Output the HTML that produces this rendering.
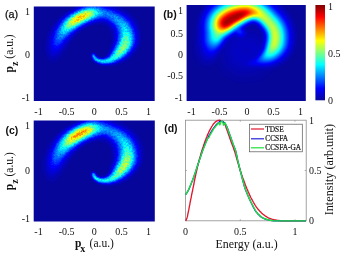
<!DOCTYPE html>
<html><head><meta charset="utf-8"><title>figure</title>
<style>html,body{margin:0;padding:0;background:#fff}svg{display:block}.h circle{mix-blend-mode:lighten}text{fill:#111}</style>
</head><body>
<svg width="342" height="254" viewBox="0 0 342 254">
<rect width="342" height="254" fill="#fff"/>
<defs>
<filter id="fa" filterUnits="userSpaceOnUse" x="13.799999999999997" y="-13.5" width="160.89999999999998" height="134.5" color-interpolation-filters="sRGB">
<feGaussianBlur stdDeviation="1.0" result="b"/>
<feTurbulence type="fractalNoise" baseFrequency="0.55" numOctaves="2" seed="7" result="n"/>
<feColorMatrix in="n" type="matrix" values="1 0 0 0 0  1 0 0 0 0  1 0 0 0 0  0 0 0 0 1" result="ng"/>
<feComposite in="b" in2="ng" operator="arithmetic" k1="0.5" k2="0.75" k3="0" k4="0"/>
<feComponentTransfer>
<feFuncR type="table" tableValues="0.024 0 0 0 0.5 1 1 1 0.5"/>
<feFuncG type="table" tableValues="0.024 0 0.5 1 1 1 0.5 0 0"/>
<feFuncB type="table" tableValues="0.61 1 1 1 0.5 0 0 0 0"/>
</feComponentTransfer>
</filter>
<clipPath id="clipfa"><rect x="33.8" y="6.5" width="120.89999999999999" height="94.5"/></clipPath>
<filter id="fb" filterUnits="userSpaceOnUse" x="166.6" y="-15" width="159.20000000000002" height="136.1" color-interpolation-filters="sRGB">
<feGaussianBlur stdDeviation="1.5" result="b"/>

<feComponentTransfer>
<feFuncR type="table" tableValues="0.024 0 0 0 0.5 1 1 1 0.5"/>
<feFuncG type="table" tableValues="0.024 0 0.5 1 1 1 0.5 0 0"/>
<feFuncB type="table" tableValues="0.61 1 1 1 0.5 0 0 0 0"/>
</feComponentTransfer>
</filter>
<clipPath id="clipfb"><rect x="186.6" y="5" width="119.20000000000002" height="96.1"/></clipPath>
<filter id="fc" filterUnits="userSpaceOnUse" x="13.700000000000003" y="100.4" width="161.10000000000002" height="141.1" color-interpolation-filters="sRGB">
<feGaussianBlur stdDeviation="1.0" result="b"/>
<feTurbulence type="fractalNoise" baseFrequency="0.55" numOctaves="2" seed="11" result="n"/>
<feColorMatrix in="n" type="matrix" values="1 0 0 0 0  1 0 0 0 0  1 0 0 0 0  0 0 0 0 1" result="ng"/>
<feComposite in="b" in2="ng" operator="arithmetic" k1="0.5" k2="0.75" k3="0" k4="0"/>
<feComponentTransfer>
<feFuncR type="table" tableValues="0.024 0 0 0 0.5 1 1 1 0.5"/>
<feFuncG type="table" tableValues="0.024 0 0.5 1 1 1 0.5 0 0"/>
<feFuncB type="table" tableValues="0.61 1 1 1 0.5 0 0 0 0"/>
</feComponentTransfer>
</filter>
<clipPath id="clipfc"><rect x="33.7" y="120.4" width="121.10000000000001" height="101.1"/></clipPath>
<linearGradient id="cb" x1="0" y1="1" x2="0" y2="0">
<stop offset="0" stop-color="rgb(6,6,156)"/>
<stop offset="0.125" stop-color="rgb(0,0,255)"/>
<stop offset="0.375" stop-color="rgb(0,255,255)"/>
<stop offset="0.625" stop-color="rgb(255,255,0)"/>
<stop offset="0.875" stop-color="rgb(255,0,0)"/>
<stop offset="1" stop-color="rgb(128,0,0)"/>
</linearGradient>
</defs>

<g clip-path="url(#clipfa)"><g filter="url(#fa)" class="h">
<rect x="13.799999999999997" y="-13.5" width="160.89999999999998" height="134.5" fill="#000"/>
<circle cx="93.4" cy="55.4" r="2.00" fill="rgb(11,11,11)"/>
<circle cx="94.3" cy="57.6" r="2.46" fill="rgb(10,10,10)"/>
<circle cx="95.9" cy="59.2" r="2.89" fill="rgb(9,9,9)"/>
<circle cx="97.8" cy="60.3" r="3.28" fill="rgb(8,8,8)"/>
<circle cx="100.0" cy="61.0" r="3.66" fill="rgb(8,8,8)"/>
<circle cx="102.3" cy="61.4" r="4.07" fill="rgb(7,7,7)"/>
<circle cx="104.6" cy="61.4" r="4.49" fill="rgb(7,7,7)"/>
<circle cx="106.9" cy="61.0" r="5.02" fill="rgb(7,7,7)"/>
<circle cx="109.0" cy="60.4" r="5.69" fill="rgb(7,7,7)"/>
<circle cx="111.1" cy="59.5" r="6.44" fill="rgb(7,7,7)"/>
<circle cx="113.1" cy="58.3" r="7.25" fill="rgb(7,7,7)"/>
<circle cx="114.9" cy="56.9" r="8.12" fill="rgb(7,7,7)"/>
<circle cx="116.6" cy="55.4" r="9.00" fill="rgb(8,8,8)"/>
<circle cx="118.2" cy="53.8" r="9.90" fill="rgb(8,8,8)"/>
<circle cx="119.7" cy="52.1" r="10.80" fill="rgb(8,8,8)"/>
<circle cx="121.2" cy="50.3" r="11.57" fill="rgb(9,9,9)"/>
<circle cx="122.5" cy="48.5" r="12.20" fill="rgb(9,9,9)"/>
<circle cx="123.8" cy="46.6" r="12.76" fill="rgb(9,9,9)"/>
<circle cx="124.9" cy="44.6" r="13.36" fill="rgb(8,8,8)"/>
<circle cx="125.7" cy="42.5" r="14.00" fill="rgb(8,8,8)"/>
<circle cx="126.3" cy="40.3" r="14.47" fill="rgb(8,8,8)"/>
<circle cx="126.5" cy="38.0" r="14.71" fill="rgb(7,7,7)"/>
<circle cx="126.4" cy="35.7" r="14.90" fill="rgb(7,7,7)"/>
<circle cx="126.1" cy="33.4" r="15.00" fill="rgb(6,6,6)"/>
<circle cx="125.6" cy="31.2" r="14.94" fill="rgb(6,6,6)"/>
<circle cx="124.9" cy="29.0" r="14.74" fill="rgb(6,6,6)"/>
<circle cx="124.0" cy="26.9" r="14.49" fill="rgb(5,5,5)"/>
<circle cx="122.7" cy="25.0" r="14.18" fill="rgb(5,5,5)"/>
<circle cx="121.3" cy="23.3" r="13.80" fill="rgb(5,5,5)"/>
<circle cx="119.7" cy="21.7" r="13.42" fill="rgb(5,5,5)"/>
<circle cx="117.9" cy="20.2" r="13.04" fill="rgb(5,5,5)"/>
<circle cx="116.1" cy="18.8" r="12.68" fill="rgb(4,4,4)"/>
<circle cx="114.2" cy="17.5" r="12.39" fill="rgb(4,4,4)"/>
<circle cx="112.3" cy="16.4" r="12.14" fill="rgb(4,4,4)"/>
<circle cx="110.2" cy="15.4" r="12.00" fill="rgb(4,4,4)"/>
<circle cx="108.1" cy="14.5" r="12.00" fill="rgb(4,4,4)"/>
<circle cx="106.0" cy="13.8" r="12.00" fill="rgb(4,4,4)"/>
<circle cx="103.8" cy="13.2" r="12.00" fill="rgb(4,4,4)"/>
<circle cx="101.5" cy="12.8" r="12.00" fill="rgb(5,5,5)"/>
<circle cx="99.2" cy="12.7" r="12.00" fill="rgb(5,5,5)"/>
<circle cx="97.0" cy="12.6" r="12.00" fill="rgb(6,6,6)"/>
<circle cx="94.7" cy="12.8" r="12.00" fill="rgb(7,7,7)"/>
<circle cx="92.4" cy="13.1" r="11.90" fill="rgb(8,8,8)"/>
<circle cx="90.2" cy="13.6" r="11.68" fill="rgb(9,9,9)"/>
<circle cx="88.0" cy="14.3" r="11.51" fill="rgb(10,10,10)"/>
<circle cx="85.9" cy="15.1" r="11.50" fill="rgb(11,11,11)"/>
<circle cx="83.8" cy="15.9" r="11.50" fill="rgb(11,11,11)"/>
<circle cx="81.7" cy="16.9" r="11.50" fill="rgb(11,11,11)"/>
<circle cx="79.7" cy="17.9" r="11.50" fill="rgb(11,11,11)"/>
<circle cx="77.7" cy="19.0" r="11.55" fill="rgb(11,11,11)"/>
<circle cx="75.7" cy="20.2" r="11.68" fill="rgb(11,11,11)"/>
<circle cx="73.8" cy="21.4" r="11.85" fill="rgb(10,10,10)"/>
<circle cx="72.0" cy="22.7" r="12.00" fill="rgb(10,10,10)"/>
<circle cx="70.2" cy="24.1" r="12.14" fill="rgb(9,9,9)"/>
<circle cx="68.5" cy="25.6" r="12.29" fill="rgb(8,8,8)"/>
<circle cx="66.8" cy="27.2" r="12.44" fill="rgb(7,7,7)"/>
<circle cx="65.3" cy="28.9" r="12.64" fill="rgb(6,6,6)"/>
<circle cx="63.9" cy="30.7" r="12.88" fill="rgb(6,6,6)"/>
<circle cx="62.5" cy="32.5" r="13.00" fill="rgb(5,5,5)"/>
<circle cx="61.2" cy="34.4" r="13.00" fill="rgb(5,5,5)"/>
<circle cx="60.1" cy="36.3" r="13.00" fill="rgb(4,4,4)"/>
<circle cx="59.0" cy="38.4" r="13.00" fill="rgb(4,4,4)"/>
<circle cx="58.0" cy="40.4" r="12.95" fill="rgb(3,3,3)"/>
<circle cx="57.1" cy="42.5" r="12.76" fill="rgb(3,3,3)"/>
<circle cx="56.3" cy="44.6" r="12.54" fill="rgb(3,3,3)"/>
<circle cx="55.4" cy="46.7" r="12.35" fill="rgb(2,2,2)"/>
<circle cx="54.7" cy="48.9" r="12.16" fill="rgb(2,2,2)"/>
<circle cx="93.4" cy="55.4" r="1.68" fill="rgb(26,26,26)"/>
<circle cx="94.3" cy="57.6" r="2.06" fill="rgb(23,23,23)"/>
<circle cx="95.9" cy="59.2" r="2.42" fill="rgb(21,21,21)"/>
<circle cx="97.8" cy="60.3" r="2.75" fill="rgb(19,19,19)"/>
<circle cx="100.0" cy="61.0" r="3.08" fill="rgb(18,18,18)"/>
<circle cx="102.3" cy="61.4" r="3.42" fill="rgb(17,17,17)"/>
<circle cx="104.6" cy="61.4" r="3.78" fill="rgb(17,17,17)"/>
<circle cx="106.9" cy="61.0" r="4.21" fill="rgb(16,16,16)"/>
<circle cx="109.0" cy="60.4" r="4.78" fill="rgb(16,16,16)"/>
<circle cx="111.1" cy="59.5" r="5.41" fill="rgb(16,16,16)"/>
<circle cx="113.1" cy="58.3" r="6.09" fill="rgb(17,17,17)"/>
<circle cx="114.9" cy="56.9" r="6.82" fill="rgb(17,17,17)"/>
<circle cx="116.6" cy="55.4" r="7.56" fill="rgb(18,18,18)"/>
<circle cx="118.2" cy="53.8" r="8.32" fill="rgb(19,19,19)"/>
<circle cx="119.7" cy="52.1" r="9.07" fill="rgb(20,20,20)"/>
<circle cx="121.2" cy="50.3" r="9.72" fill="rgb(20,20,20)"/>
<circle cx="122.5" cy="48.5" r="10.25" fill="rgb(20,20,20)"/>
<circle cx="123.8" cy="46.6" r="10.72" fill="rgb(20,20,20)"/>
<circle cx="124.9" cy="44.6" r="11.22" fill="rgb(20,20,20)"/>
<circle cx="125.7" cy="42.5" r="11.76" fill="rgb(19,19,19)"/>
<circle cx="126.3" cy="40.3" r="12.15" fill="rgb(18,18,18)"/>
<circle cx="126.5" cy="38.0" r="12.36" fill="rgb(17,17,17)"/>
<circle cx="126.4" cy="35.7" r="12.52" fill="rgb(16,16,16)"/>
<circle cx="126.1" cy="33.4" r="12.60" fill="rgb(15,15,15)"/>
<circle cx="125.6" cy="31.2" r="12.55" fill="rgb(14,14,14)"/>
<circle cx="124.9" cy="29.0" r="12.38" fill="rgb(13,13,13)"/>
<circle cx="124.0" cy="26.9" r="12.17" fill="rgb(13,13,13)"/>
<circle cx="122.7" cy="25.0" r="11.91" fill="rgb(12,12,12)"/>
<circle cx="121.3" cy="23.3" r="11.59" fill="rgb(12,12,12)"/>
<circle cx="119.7" cy="21.7" r="11.28" fill="rgb(11,11,11)"/>
<circle cx="117.9" cy="20.2" r="10.95" fill="rgb(11,11,11)"/>
<circle cx="116.1" cy="18.8" r="10.65" fill="rgb(10,10,10)"/>
<circle cx="114.2" cy="17.5" r="10.41" fill="rgb(10,10,10)"/>
<circle cx="112.3" cy="16.4" r="10.19" fill="rgb(10,10,10)"/>
<circle cx="110.2" cy="15.4" r="10.08" fill="rgb(10,10,10)"/>
<circle cx="108.1" cy="14.5" r="10.08" fill="rgb(10,10,10)"/>
<circle cx="106.0" cy="13.8" r="10.08" fill="rgb(10,10,10)"/>
<circle cx="103.8" cy="13.2" r="10.08" fill="rgb(10,10,10)"/>
<circle cx="101.5" cy="12.8" r="10.08" fill="rgb(11,11,11)"/>
<circle cx="99.2" cy="12.7" r="10.08" fill="rgb(12,12,12)"/>
<circle cx="97.0" cy="12.6" r="10.08" fill="rgb(14,14,14)"/>
<circle cx="94.7" cy="12.8" r="10.08" fill="rgb(16,16,16)"/>
<circle cx="92.4" cy="13.1" r="10.00" fill="rgb(18,18,18)"/>
<circle cx="90.2" cy="13.6" r="9.81" fill="rgb(21,21,21)"/>
<circle cx="88.0" cy="14.3" r="9.67" fill="rgb(24,24,24)"/>
<circle cx="85.9" cy="15.1" r="9.66" fill="rgb(25,25,25)"/>
<circle cx="83.8" cy="15.9" r="9.66" fill="rgb(26,26,26)"/>
<circle cx="81.7" cy="16.9" r="9.66" fill="rgb(26,26,26)"/>
<circle cx="79.7" cy="17.9" r="9.66" fill="rgb(27,27,27)"/>
<circle cx="77.7" cy="19.0" r="9.70" fill="rgb(26,26,26)"/>
<circle cx="75.7" cy="20.2" r="9.81" fill="rgb(26,26,26)"/>
<circle cx="73.8" cy="21.4" r="9.95" fill="rgb(24,24,24)"/>
<circle cx="72.0" cy="22.7" r="10.08" fill="rgb(23,23,23)"/>
<circle cx="70.2" cy="24.1" r="10.20" fill="rgb(21,21,21)"/>
<circle cx="68.5" cy="25.6" r="10.32" fill="rgb(19,19,19)"/>
<circle cx="66.8" cy="27.2" r="10.45" fill="rgb(17,17,17)"/>
<circle cx="65.3" cy="28.9" r="10.62" fill="rgb(15,15,15)"/>
<circle cx="63.9" cy="30.7" r="10.82" fill="rgb(13,13,13)"/>
<circle cx="62.5" cy="32.5" r="10.92" fill="rgb(12,12,12)"/>
<circle cx="61.2" cy="34.4" r="10.92" fill="rgb(11,11,11)"/>
<circle cx="60.1" cy="36.3" r="10.92" fill="rgb(10,10,10)"/>
<circle cx="59.0" cy="38.4" r="10.92" fill="rgb(9,9,9)"/>
<circle cx="58.0" cy="40.4" r="10.88" fill="rgb(8,8,8)"/>
<circle cx="57.1" cy="42.5" r="10.72" fill="rgb(7,7,7)"/>
<circle cx="56.3" cy="44.6" r="10.53" fill="rgb(6,6,6)"/>
<circle cx="55.4" cy="46.7" r="10.38" fill="rgb(5,5,5)"/>
<circle cx="54.7" cy="48.9" r="10.21" fill="rgb(4,4,4)"/>
<circle cx="54.1" cy="51.1" r="9.99" fill="rgb(3,3,3)"/>
<circle cx="53.7" cy="53.3" r="9.66" fill="rgb(2,2,2)"/>
<circle cx="93.4" cy="55.4" r="1.43" fill="rgb(44,44,44)"/>
<circle cx="94.3" cy="57.6" r="1.76" fill="rgb(39,39,39)"/>
<circle cx="95.9" cy="59.2" r="2.06" fill="rgb(36,36,36)"/>
<circle cx="97.8" cy="60.3" r="2.34" fill="rgb(33,33,33)"/>
<circle cx="100.0" cy="61.0" r="2.62" fill="rgb(31,31,31)"/>
<circle cx="102.3" cy="61.4" r="2.91" fill="rgb(30,30,30)"/>
<circle cx="104.6" cy="61.4" r="3.21" fill="rgb(28,28,28)"/>
<circle cx="106.9" cy="61.0" r="3.59" fill="rgb(28,28,28)"/>
<circle cx="109.0" cy="60.4" r="4.07" fill="rgb(28,28,28)"/>
<circle cx="111.1" cy="59.5" r="4.60" fill="rgb(28,28,28)"/>
<circle cx="113.1" cy="58.3" r="5.18" fill="rgb(29,29,29)"/>
<circle cx="114.9" cy="56.9" r="5.81" fill="rgb(29,29,29)"/>
<circle cx="116.6" cy="55.4" r="6.44" fill="rgb(31,31,31)"/>
<circle cx="118.2" cy="53.8" r="7.08" fill="rgb(32,32,32)"/>
<circle cx="119.7" cy="52.1" r="7.72" fill="rgb(33,33,33)"/>
<circle cx="121.2" cy="50.3" r="8.28" fill="rgb(34,34,34)"/>
<circle cx="122.5" cy="48.5" r="8.72" fill="rgb(34,34,34)"/>
<circle cx="123.8" cy="46.6" r="9.13" fill="rgb(34,34,34)"/>
<circle cx="124.9" cy="44.6" r="9.55" fill="rgb(34,34,34)"/>
<circle cx="125.7" cy="42.5" r="10.01" fill="rgb(32,32,32)"/>
<circle cx="126.3" cy="40.3" r="10.34" fill="rgb(31,31,31)"/>
<circle cx="126.5" cy="38.0" r="10.52" fill="rgb(29,29,29)"/>
<circle cx="126.4" cy="35.7" r="10.66" fill="rgb(27,27,27)"/>
<circle cx="126.1" cy="33.4" r="10.72" fill="rgb(26,26,26)"/>
<circle cx="125.6" cy="31.2" r="10.68" fill="rgb(24,24,24)"/>
<circle cx="124.9" cy="29.0" r="10.54" fill="rgb(23,23,23)"/>
<circle cx="124.0" cy="26.9" r="10.36" fill="rgb(22,22,22)"/>
<circle cx="122.7" cy="25.0" r="10.14" fill="rgb(21,21,21)"/>
<circle cx="121.3" cy="23.3" r="9.87" fill="rgb(20,20,20)"/>
<circle cx="119.7" cy="21.7" r="9.60" fill="rgb(19,19,19)"/>
<circle cx="117.9" cy="20.2" r="9.32" fill="rgb(19,19,19)"/>
<circle cx="116.1" cy="18.8" r="9.06" fill="rgb(18,18,18)"/>
<circle cx="114.2" cy="17.5" r="8.86" fill="rgb(17,17,17)"/>
<circle cx="112.3" cy="16.4" r="8.68" fill="rgb(17,17,17)"/>
<circle cx="110.2" cy="15.4" r="8.58" fill="rgb(16,16,16)"/>
<circle cx="108.1" cy="14.5" r="8.58" fill="rgb(16,16,16)"/>
<circle cx="106.0" cy="13.8" r="8.58" fill="rgb(16,16,16)"/>
<circle cx="103.8" cy="13.2" r="8.58" fill="rgb(17,17,17)"/>
<circle cx="101.5" cy="12.8" r="8.58" fill="rgb(19,19,19)"/>
<circle cx="99.2" cy="12.7" r="8.58" fill="rgb(21,21,21)"/>
<circle cx="97.0" cy="12.6" r="8.58" fill="rgb(24,24,24)"/>
<circle cx="94.7" cy="12.8" r="8.58" fill="rgb(27,27,27)"/>
<circle cx="92.4" cy="13.1" r="8.51" fill="rgb(31,31,31)"/>
<circle cx="90.2" cy="13.6" r="8.35" fill="rgb(37,37,37)"/>
<circle cx="88.0" cy="14.3" r="8.23" fill="rgb(41,41,41)"/>
<circle cx="85.9" cy="15.1" r="8.22" fill="rgb(43,43,43)"/>
<circle cx="83.8" cy="15.9" r="8.22" fill="rgb(44,44,44)"/>
<circle cx="81.7" cy="16.9" r="8.22" fill="rgb(45,45,45)"/>
<circle cx="79.7" cy="17.9" r="8.22" fill="rgb(46,46,46)"/>
<circle cx="77.7" cy="19.0" r="8.26" fill="rgb(45,45,45)"/>
<circle cx="75.7" cy="20.2" r="8.35" fill="rgb(44,44,44)"/>
<circle cx="73.8" cy="21.4" r="8.47" fill="rgb(42,42,42)"/>
<circle cx="72.0" cy="22.7" r="8.58" fill="rgb(39,39,39)"/>
<circle cx="70.2" cy="24.1" r="8.68" fill="rgb(36,36,36)"/>
<circle cx="68.5" cy="25.6" r="8.79" fill="rgb(32,32,32)"/>
<circle cx="66.8" cy="27.2" r="8.90" fill="rgb(29,29,29)"/>
<circle cx="65.3" cy="28.9" r="9.04" fill="rgb(26,26,26)"/>
<circle cx="63.9" cy="30.7" r="9.21" fill="rgb(23,23,23)"/>
<circle cx="62.5" cy="32.5" r="9.29" fill="rgb(21,21,21)"/>
<circle cx="61.2" cy="34.4" r="9.29" fill="rgb(19,19,19)"/>
<circle cx="60.1" cy="36.3" r="9.29" fill="rgb(17,17,17)"/>
<circle cx="59.0" cy="38.4" r="9.29" fill="rgb(15,15,15)"/>
<circle cx="58.0" cy="40.4" r="9.26" fill="rgb(13,13,13)"/>
<circle cx="57.1" cy="42.5" r="9.12" fill="rgb(12,12,12)"/>
<circle cx="56.3" cy="44.6" r="8.96" fill="rgb(10,10,10)"/>
<circle cx="55.4" cy="46.7" r="8.83" fill="rgb(9,9,9)"/>
<circle cx="54.7" cy="48.9" r="8.69" fill="rgb(7,7,7)"/>
<circle cx="54.1" cy="51.1" r="8.50" fill="rgb(5,5,5)"/>
<circle cx="53.7" cy="53.3" r="8.22" fill="rgb(4,4,4)"/>
<circle cx="53.5" cy="55.6" r="7.86" fill="rgb(2,2,2)"/>
<circle cx="93.4" cy="55.4" r="1.21" fill="rgb(66,66,66)"/>
<circle cx="94.3" cy="57.6" r="1.49" fill="rgb(59,59,59)"/>
<circle cx="95.9" cy="59.2" r="1.75" fill="rgb(54,54,54)"/>
<circle cx="97.8" cy="60.3" r="1.98" fill="rgb(50,50,50)"/>
<circle cx="100.0" cy="61.0" r="2.22" fill="rgb(47,47,47)"/>
<circle cx="102.3" cy="61.4" r="2.46" fill="rgb(44,44,44)"/>
<circle cx="104.6" cy="61.4" r="2.72" fill="rgb(43,43,43)"/>
<circle cx="106.9" cy="61.0" r="3.04" fill="rgb(42,42,42)"/>
<circle cx="109.0" cy="60.4" r="3.44" fill="rgb(42,42,42)"/>
<circle cx="111.1" cy="59.5" r="3.90" fill="rgb(42,42,42)"/>
<circle cx="113.1" cy="58.3" r="4.38" fill="rgb(43,43,43)"/>
<circle cx="114.9" cy="56.9" r="4.91" fill="rgb(44,44,44)"/>
<circle cx="116.6" cy="55.4" r="5.45" fill="rgb(46,46,46)"/>
<circle cx="118.2" cy="53.8" r="5.99" fill="rgb(48,48,48)"/>
<circle cx="119.7" cy="52.1" r="6.53" fill="rgb(50,50,50)"/>
<circle cx="121.2" cy="50.3" r="7.00" fill="rgb(51,51,51)"/>
<circle cx="122.5" cy="48.5" r="7.38" fill="rgb(51,51,51)"/>
<circle cx="123.8" cy="46.6" r="7.72" fill="rgb(51,51,51)"/>
<circle cx="124.9" cy="44.6" r="8.08" fill="rgb(51,51,51)"/>
<circle cx="125.7" cy="42.5" r="8.47" fill="rgb(49,49,49)"/>
<circle cx="126.3" cy="40.3" r="8.75" fill="rgb(46,46,46)"/>
<circle cx="126.5" cy="38.0" r="8.90" fill="rgb(44,44,44)"/>
<circle cx="126.4" cy="35.7" r="9.02" fill="rgb(41,41,41)"/>
<circle cx="126.1" cy="33.4" r="9.07" fill="rgb(38,38,38)"/>
<circle cx="125.6" cy="31.2" r="9.04" fill="rgb(36,36,36)"/>
<circle cx="124.9" cy="29.0" r="8.92" fill="rgb(34,34,34)"/>
<circle cx="124.0" cy="26.9" r="8.77" fill="rgb(33,33,33)"/>
<circle cx="122.7" cy="25.0" r="8.58" fill="rgb(31,31,31)"/>
<circle cx="121.3" cy="23.3" r="8.35" fill="rgb(30,30,30)"/>
<circle cx="119.7" cy="21.7" r="8.12" fill="rgb(29,29,29)"/>
<circle cx="117.9" cy="20.2" r="7.89" fill="rgb(28,28,28)"/>
<circle cx="116.1" cy="18.8" r="7.67" fill="rgb(27,27,27)"/>
<circle cx="114.2" cy="17.5" r="7.50" fill="rgb(26,26,26)"/>
<circle cx="112.3" cy="16.4" r="7.34" fill="rgb(25,25,25)"/>
<circle cx="110.2" cy="15.4" r="7.26" fill="rgb(25,25,25)"/>
<circle cx="108.1" cy="14.5" r="7.26" fill="rgb(25,25,25)"/>
<circle cx="106.0" cy="13.8" r="7.26" fill="rgb(25,25,25)"/>
<circle cx="103.8" cy="13.2" r="7.26" fill="rgb(25,25,25)"/>
<circle cx="101.5" cy="12.8" r="7.26" fill="rgb(28,28,28)"/>
<circle cx="99.2" cy="12.7" r="7.26" fill="rgb(31,31,31)"/>
<circle cx="97.0" cy="12.6" r="7.26" fill="rgb(36,36,36)"/>
<circle cx="94.7" cy="12.8" r="7.26" fill="rgb(41,41,41)"/>
<circle cx="92.4" cy="13.1" r="7.20" fill="rgb(47,47,47)"/>
<circle cx="90.2" cy="13.6" r="7.06" fill="rgb(55,55,55)"/>
<circle cx="88.0" cy="14.3" r="6.96" fill="rgb(61,61,61)"/>
<circle cx="85.9" cy="15.1" r="6.96" fill="rgb(64,64,64)"/>
<circle cx="83.8" cy="15.9" r="6.96" fill="rgb(66,66,66)"/>
<circle cx="81.7" cy="16.9" r="6.96" fill="rgb(68,68,68)"/>
<circle cx="79.7" cy="17.9" r="6.96" fill="rgb(69,69,69)"/>
<circle cx="77.7" cy="19.0" r="6.99" fill="rgb(68,68,68)"/>
<circle cx="75.7" cy="20.2" r="7.06" fill="rgb(66,66,66)"/>
<circle cx="73.8" cy="21.4" r="7.17" fill="rgb(62,62,62)"/>
<circle cx="72.0" cy="22.7" r="7.26" fill="rgb(59,59,59)"/>
<circle cx="70.2" cy="24.1" r="7.35" fill="rgb(54,54,54)"/>
<circle cx="68.5" cy="25.6" r="7.43" fill="rgb(49,49,49)"/>
<circle cx="66.8" cy="27.2" r="7.53" fill="rgb(43,43,43)"/>
<circle cx="65.3" cy="28.9" r="7.65" fill="rgb(39,39,39)"/>
<circle cx="63.9" cy="30.7" r="7.79" fill="rgb(34,34,34)"/>
<circle cx="62.5" cy="32.5" r="7.87" fill="rgb(31,31,31)"/>
<circle cx="61.2" cy="34.4" r="7.87" fill="rgb(28,28,28)"/>
<circle cx="60.1" cy="36.3" r="7.87" fill="rgb(25,25,25)"/>
<circle cx="59.0" cy="38.4" r="7.87" fill="rgb(23,23,23)"/>
<circle cx="58.0" cy="40.4" r="7.83" fill="rgb(20,20,20)"/>
<circle cx="57.1" cy="42.5" r="7.72" fill="rgb(18,18,18)"/>
<circle cx="56.3" cy="44.6" r="7.58" fill="rgb(15,15,15)"/>
<circle cx="55.4" cy="46.7" r="7.47" fill="rgb(13,13,13)"/>
<circle cx="54.7" cy="48.9" r="7.36" fill="rgb(10,10,10)"/>
<circle cx="54.1" cy="51.1" r="7.19" fill="rgb(8,8,8)"/>
<circle cx="53.7" cy="53.3" r="6.96" fill="rgb(6,6,6)"/>
<circle cx="53.5" cy="55.6" r="6.65" fill="rgb(4,4,4)"/>
<circle cx="93.4" cy="55.4" r="1.00" fill="rgb(92,92,92)"/>
<circle cx="94.3" cy="57.6" r="1.23" fill="rgb(82,82,82)"/>
<circle cx="95.9" cy="59.2" r="1.44" fill="rgb(75,75,75)"/>
<circle cx="97.8" cy="60.3" r="1.64" fill="rgb(69,69,69)"/>
<circle cx="100.0" cy="61.0" r="1.83" fill="rgb(65,65,65)"/>
<circle cx="102.3" cy="61.4" r="2.04" fill="rgb(62,62,62)"/>
<circle cx="104.6" cy="61.4" r="2.25" fill="rgb(59,59,59)"/>
<circle cx="106.9" cy="61.0" r="2.51" fill="rgb(59,59,59)"/>
<circle cx="109.0" cy="60.4" r="2.84" fill="rgb(59,59,59)"/>
<circle cx="111.1" cy="59.5" r="3.22" fill="rgb(59,59,59)"/>
<circle cx="113.1" cy="58.3" r="3.62" fill="rgb(60,60,60)"/>
<circle cx="114.9" cy="56.9" r="4.06" fill="rgb(61,61,61)"/>
<circle cx="116.6" cy="55.4" r="4.50" fill="rgb(64,64,64)"/>
<circle cx="118.2" cy="53.8" r="4.95" fill="rgb(67,67,67)"/>
<circle cx="119.7" cy="52.1" r="5.40" fill="rgb(70,70,70)"/>
<circle cx="121.2" cy="50.3" r="5.79" fill="rgb(71,71,71)"/>
<circle cx="122.5" cy="48.5" r="6.10" fill="rgb(71,71,71)"/>
<circle cx="123.8" cy="46.6" r="6.38" fill="rgb(71,71,71)"/>
<circle cx="124.9" cy="44.6" r="6.68" fill="rgb(70,70,70)"/>
<circle cx="125.7" cy="42.5" r="7.00" fill="rgb(68,68,68)"/>
<circle cx="126.3" cy="40.3" r="7.23" fill="rgb(64,64,64)"/>
<circle cx="126.5" cy="38.0" r="7.36" fill="rgb(61,61,61)"/>
<circle cx="126.4" cy="35.7" r="7.45" fill="rgb(57,57,57)"/>
<circle cx="126.1" cy="33.4" r="7.50" fill="rgb(53,53,53)"/>
<circle cx="125.6" cy="31.2" r="7.47" fill="rgb(50,50,50)"/>
<circle cx="124.9" cy="29.0" r="7.37" fill="rgb(48,48,48)"/>
<circle cx="124.0" cy="26.9" r="7.25" fill="rgb(45,45,45)"/>
<circle cx="122.7" cy="25.0" r="7.09" fill="rgb(43,43,43)"/>
<circle cx="121.3" cy="23.3" r="6.90" fill="rgb(42,42,42)"/>
<circle cx="119.7" cy="21.7" r="6.71" fill="rgb(40,40,40)"/>
<circle cx="117.9" cy="20.2" r="6.52" fill="rgb(39,39,39)"/>
<circle cx="116.1" cy="18.8" r="6.34" fill="rgb(37,37,37)"/>
<circle cx="114.2" cy="17.5" r="6.20" fill="rgb(36,36,36)"/>
<circle cx="112.3" cy="16.4" r="6.07" fill="rgb(35,35,35)"/>
<circle cx="110.2" cy="15.4" r="6.00" fill="rgb(34,34,34)"/>
<circle cx="108.1" cy="14.5" r="6.00" fill="rgb(34,34,34)"/>
<circle cx="106.0" cy="13.8" r="6.00" fill="rgb(34,34,34)"/>
<circle cx="103.8" cy="13.2" r="6.00" fill="rgb(35,35,35)"/>
<circle cx="101.5" cy="12.8" r="6.00" fill="rgb(39,39,39)"/>
<circle cx="99.2" cy="12.7" r="6.00" fill="rgb(43,43,43)"/>
<circle cx="97.0" cy="12.6" r="6.00" fill="rgb(49,49,49)"/>
<circle cx="94.7" cy="12.8" r="6.00" fill="rgb(57,57,57)"/>
<circle cx="92.4" cy="13.1" r="5.95" fill="rgb(66,66,66)"/>
<circle cx="90.2" cy="13.6" r="5.84" fill="rgb(76,76,76)"/>
<circle cx="88.0" cy="14.3" r="5.75" fill="rgb(84,84,84)"/>
<circle cx="85.9" cy="15.1" r="5.75" fill="rgb(89,89,89)"/>
<circle cx="83.8" cy="15.9" r="5.75" fill="rgb(92,92,92)"/>
<circle cx="81.7" cy="16.9" r="5.75" fill="rgb(94,94,94)"/>
<circle cx="79.7" cy="17.9" r="5.75" fill="rgb(95,95,95)"/>
<circle cx="77.7" cy="19.0" r="5.77" fill="rgb(94,94,94)"/>
<circle cx="75.7" cy="20.2" r="5.84" fill="rgb(91,91,91)"/>
<circle cx="73.8" cy="21.4" r="5.92" fill="rgb(87,87,87)"/>
<circle cx="72.0" cy="22.7" r="6.00" fill="rgb(82,82,82)"/>
<circle cx="70.2" cy="24.1" r="6.07" fill="rgb(76,76,76)"/>
<circle cx="68.5" cy="25.6" r="6.14" fill="rgb(68,68,68)"/>
<circle cx="66.8" cy="27.2" r="6.22" fill="rgb(60,60,60)"/>
<circle cx="65.3" cy="28.9" r="6.32" fill="rgb(53,53,53)"/>
<circle cx="63.9" cy="30.7" r="6.44" fill="rgb(48,48,48)"/>
<circle cx="62.5" cy="32.5" r="6.50" fill="rgb(43,43,43)"/>
<circle cx="61.2" cy="34.4" r="6.50" fill="rgb(39,39,39)"/>
<circle cx="60.1" cy="36.3" r="6.50" fill="rgb(35,35,35)"/>
<circle cx="59.0" cy="38.4" r="6.50" fill="rgb(32,32,32)"/>
<circle cx="58.0" cy="40.4" r="6.47" fill="rgb(28,28,28)"/>
<circle cx="57.1" cy="42.5" r="6.38" fill="rgb(25,25,25)"/>
<circle cx="56.3" cy="44.6" r="6.27" fill="rgb(21,21,21)"/>
<circle cx="55.4" cy="46.7" r="6.18" fill="rgb(18,18,18)"/>
<circle cx="54.7" cy="48.9" r="6.08" fill="rgb(14,14,14)"/>
<circle cx="54.1" cy="51.1" r="5.95" fill="rgb(11,11,11)"/>
<circle cx="53.7" cy="53.3" r="5.75" fill="rgb(8,8,8)"/>
<circle cx="53.5" cy="55.6" r="5.50" fill="rgb(5,5,5)"/>
<circle cx="93.4" cy="55.4" r="0.79" fill="rgb(119,119,119)"/>
<circle cx="94.3" cy="57.6" r="0.97" fill="rgb(107,107,107)"/>
<circle cx="95.9" cy="59.2" r="1.14" fill="rgb(97,97,97)"/>
<circle cx="97.8" cy="60.3" r="1.29" fill="rgb(90,90,90)"/>
<circle cx="100.0" cy="61.0" r="1.45" fill="rgb(84,84,84)"/>
<circle cx="102.3" cy="61.4" r="1.61" fill="rgb(80,80,80)"/>
<circle cx="104.6" cy="61.4" r="1.78" fill="rgb(77,77,77)"/>
<circle cx="106.9" cy="61.0" r="1.98" fill="rgb(76,76,76)"/>
<circle cx="109.0" cy="60.4" r="2.25" fill="rgb(76,76,76)"/>
<circle cx="111.1" cy="59.5" r="2.54" fill="rgb(76,76,76)"/>
<circle cx="113.1" cy="58.3" r="2.86" fill="rgb(77,77,77)"/>
<circle cx="114.9" cy="56.9" r="3.21" fill="rgb(80,80,80)"/>
<circle cx="116.6" cy="55.4" r="3.56" fill="rgb(83,83,83)"/>
<circle cx="118.2" cy="53.8" r="3.91" fill="rgb(87,87,87)"/>
<circle cx="119.7" cy="52.1" r="4.26" fill="rgb(91,91,91)"/>
<circle cx="121.2" cy="50.3" r="4.57" fill="rgb(92,92,92)"/>
<circle cx="122.5" cy="48.5" r="4.82" fill="rgb(92,92,92)"/>
<circle cx="123.8" cy="46.6" r="5.04" fill="rgb(92,92,92)"/>
<circle cx="124.9" cy="44.6" r="5.28" fill="rgb(92,92,92)"/>
<circle cx="125.7" cy="42.5" r="5.53" fill="rgb(88,88,88)"/>
<circle cx="126.3" cy="40.3" r="5.71" fill="rgb(83,83,83)"/>
<circle cx="126.5" cy="38.0" r="5.81" fill="rgb(79,79,79)"/>
<circle cx="126.4" cy="35.7" r="5.89" fill="rgb(74,74,74)"/>
<circle cx="126.1" cy="33.4" r="5.92" fill="rgb(69,69,69)"/>
<circle cx="125.6" cy="31.2" r="5.90" fill="rgb(65,65,65)"/>
<circle cx="124.9" cy="29.0" r="5.82" fill="rgb(62,62,62)"/>
<circle cx="124.0" cy="26.9" r="5.73" fill="rgb(59,59,59)"/>
<circle cx="122.7" cy="25.0" r="5.60" fill="rgb(56,56,56)"/>
<circle cx="121.3" cy="23.3" r="5.45" fill="rgb(54,54,54)"/>
<circle cx="119.7" cy="21.7" r="5.30" fill="rgb(52,52,52)"/>
<circle cx="117.9" cy="20.2" r="5.15" fill="rgb(50,50,50)"/>
<circle cx="116.1" cy="18.8" r="5.01" fill="rgb(49,49,49)"/>
<circle cx="114.2" cy="17.5" r="4.90" fill="rgb(47,47,47)"/>
<circle cx="112.3" cy="16.4" r="4.79" fill="rgb(45,45,45)"/>
<circle cx="110.2" cy="15.4" r="4.74" fill="rgb(45,45,45)"/>
<circle cx="108.1" cy="14.5" r="4.74" fill="rgb(45,45,45)"/>
<circle cx="106.0" cy="13.8" r="4.74" fill="rgb(45,45,45)"/>
<circle cx="103.8" cy="13.2" r="4.74" fill="rgb(45,45,45)"/>
<circle cx="101.5" cy="12.8" r="4.74" fill="rgb(50,50,50)"/>
<circle cx="99.2" cy="12.7" r="4.74" fill="rgb(56,56,56)"/>
<circle cx="97.0" cy="12.6" r="4.74" fill="rgb(64,64,64)"/>
<circle cx="94.7" cy="12.8" r="4.74" fill="rgb(74,74,74)"/>
<circle cx="92.4" cy="13.1" r="4.70" fill="rgb(85,85,85)"/>
<circle cx="90.2" cy="13.6" r="4.61" fill="rgb(99,99,99)"/>
<circle cx="88.0" cy="14.3" r="4.55" fill="rgb(110,110,110)"/>
<circle cx="85.9" cy="15.1" r="4.54" fill="rgb(115,115,115)"/>
<circle cx="83.8" cy="15.9" r="4.54" fill="rgb(120,120,120)"/>
<circle cx="81.7" cy="16.9" r="4.54" fill="rgb(123,123,123)"/>
<circle cx="79.7" cy="17.9" r="4.54" fill="rgb(124,124,124)"/>
<circle cx="77.7" cy="19.0" r="4.56" fill="rgb(123,123,123)"/>
<circle cx="75.7" cy="20.2" r="4.61" fill="rgb(119,119,119)"/>
<circle cx="73.8" cy="21.4" r="4.68" fill="rgb(113,113,113)"/>
<circle cx="72.0" cy="22.7" r="4.74" fill="rgb(106,106,106)"/>
<circle cx="70.2" cy="24.1" r="4.80" fill="rgb(98,98,98)"/>
<circle cx="68.5" cy="25.6" r="4.85" fill="rgb(88,88,88)"/>
<circle cx="66.8" cy="27.2" r="4.92" fill="rgb(78,78,78)"/>
<circle cx="65.3" cy="28.9" r="4.99" fill="rgb(70,70,70)"/>
<circle cx="63.9" cy="30.7" r="5.09" fill="rgb(62,62,62)"/>
<circle cx="62.5" cy="32.5" r="5.13" fill="rgb(56,56,56)"/>
<circle cx="61.2" cy="34.4" r="5.13" fill="rgb(50,50,50)"/>
<circle cx="60.1" cy="36.3" r="5.13" fill="rgb(46,46,46)"/>
<circle cx="59.0" cy="38.4" r="5.13" fill="rgb(41,41,41)"/>
<circle cx="58.0" cy="40.4" r="5.11" fill="rgb(37,37,37)"/>
<circle cx="57.1" cy="42.5" r="5.04" fill="rgb(32,32,32)"/>
<circle cx="56.3" cy="44.6" r="4.95" fill="rgb(28,28,28)"/>
<circle cx="55.4" cy="46.7" r="4.88" fill="rgb(23,23,23)"/>
<circle cx="54.7" cy="48.9" r="4.80" fill="rgb(19,19,19)"/>
<circle cx="54.1" cy="51.1" r="4.70" fill="rgb(14,14,14)"/>
<circle cx="53.7" cy="53.3" r="4.54" fill="rgb(10,10,10)"/>
<circle cx="53.5" cy="55.6" r="4.35" fill="rgb(6,6,6)"/>
<circle cx="93.4" cy="55.4" r="0.57" fill="rgb(147,147,147)"/>
<circle cx="94.3" cy="57.6" r="0.70" fill="rgb(131,131,131)"/>
<circle cx="95.9" cy="59.2" r="0.82" fill="rgb(119,119,119)"/>
<circle cx="97.8" cy="60.3" r="0.93" fill="rgb(110,110,110)"/>
<circle cx="100.0" cy="61.0" r="1.04" fill="rgb(104,104,104)"/>
<circle cx="102.3" cy="61.4" r="1.16" fill="rgb(99,99,99)"/>
<circle cx="104.6" cy="61.4" r="1.28" fill="rgb(95,95,95)"/>
<circle cx="106.9" cy="61.0" r="1.43" fill="rgb(94,94,94)"/>
<circle cx="109.0" cy="60.4" r="1.62" fill="rgb(94,94,94)"/>
<circle cx="111.1" cy="59.5" r="1.84" fill="rgb(94,94,94)"/>
<circle cx="113.1" cy="58.3" r="2.07" fill="rgb(95,95,95)"/>
<circle cx="114.9" cy="56.9" r="2.31" fill="rgb(98,98,98)"/>
<circle cx="116.6" cy="55.4" r="2.57" fill="rgb(102,102,102)"/>
<circle cx="118.2" cy="53.8" r="2.82" fill="rgb(106,106,106)"/>
<circle cx="119.7" cy="52.1" r="3.08" fill="rgb(112,112,112)"/>
<circle cx="121.2" cy="50.3" r="3.30" fill="rgb(114,114,114)"/>
<circle cx="122.5" cy="48.5" r="3.48" fill="rgb(114,114,114)"/>
<circle cx="123.8" cy="46.6" r="3.64" fill="rgb(114,114,114)"/>
<circle cx="124.9" cy="44.6" r="3.81" fill="rgb(113,113,113)"/>
<circle cx="125.7" cy="42.5" r="3.99" fill="rgb(108,108,108)"/>
<circle cx="126.3" cy="40.3" r="4.12" fill="rgb(102,102,102)"/>
<circle cx="126.5" cy="38.0" r="4.19" fill="rgb(97,97,97)"/>
<circle cx="126.4" cy="35.7" r="4.25" fill="rgb(91,91,91)"/>
<circle cx="126.1" cy="33.4" r="4.27" fill="rgb(85,85,85)"/>
<circle cx="125.6" cy="31.2" r="4.26" fill="rgb(80,80,80)"/>
<circle cx="124.9" cy="29.0" r="4.20" fill="rgb(76,76,76)"/>
<circle cx="124.0" cy="26.9" r="4.13" fill="rgb(72,72,72)"/>
<circle cx="122.7" cy="25.0" r="4.04" fill="rgb(69,69,69)"/>
<circle cx="121.3" cy="23.3" r="3.93" fill="rgb(67,67,67)"/>
<circle cx="119.7" cy="21.7" r="3.83" fill="rgb(64,64,64)"/>
<circle cx="117.9" cy="20.2" r="3.72" fill="rgb(62,62,62)"/>
<circle cx="116.1" cy="18.8" r="3.61" fill="rgb(60,60,60)"/>
<circle cx="114.2" cy="17.5" r="3.53" fill="rgb(58,58,58)"/>
<circle cx="112.3" cy="16.4" r="3.46" fill="rgb(56,56,56)"/>
<circle cx="110.2" cy="15.4" r="3.42" fill="rgb(55,55,55)"/>
<circle cx="108.1" cy="14.5" r="3.42" fill="rgb(55,55,55)"/>
<circle cx="106.0" cy="13.8" r="3.42" fill="rgb(55,55,55)"/>
<circle cx="103.8" cy="13.2" r="3.42" fill="rgb(56,56,56)"/>
<circle cx="101.5" cy="12.8" r="3.42" fill="rgb(62,62,62)"/>
<circle cx="99.2" cy="12.7" r="3.42" fill="rgb(69,69,69)"/>
<circle cx="97.0" cy="12.6" r="3.42" fill="rgb(79,79,79)"/>
<circle cx="94.7" cy="12.8" r="3.42" fill="rgb(91,91,91)"/>
<circle cx="92.4" cy="13.1" r="3.39" fill="rgb(105,105,105)"/>
<circle cx="90.2" cy="13.6" r="3.33" fill="rgb(122,122,122)"/>
<circle cx="88.0" cy="14.3" r="3.28" fill="rgb(135,135,135)"/>
<circle cx="85.9" cy="15.1" r="3.28" fill="rgb(142,142,142)"/>
<circle cx="83.8" cy="15.9" r="3.28" fill="rgb(147,147,147)"/>
<circle cx="81.7" cy="16.9" r="3.28" fill="rgb(151,151,151)"/>
<circle cx="79.7" cy="17.9" r="3.28" fill="rgb(153,153,153)"/>
<circle cx="77.7" cy="19.0" r="3.29" fill="rgb(151,151,151)"/>
<circle cx="75.7" cy="20.2" r="3.33" fill="rgb(146,146,146)"/>
<circle cx="73.8" cy="21.4" r="3.38" fill="rgb(139,139,139)"/>
<circle cx="72.0" cy="22.7" r="3.42" fill="rgb(131,131,131)"/>
<circle cx="70.2" cy="24.1" r="3.46" fill="rgb(121,121,121)"/>
<circle cx="68.5" cy="25.6" r="3.50" fill="rgb(108,108,108)"/>
<circle cx="66.8" cy="27.2" r="3.55" fill="rgb(96,96,96)"/>
<circle cx="65.3" cy="28.9" r="3.60" fill="rgb(86,86,86)"/>
<circle cx="63.9" cy="30.7" r="3.67" fill="rgb(76,76,76)"/>
<circle cx="62.5" cy="32.5" r="3.70" fill="rgb(69,69,69)"/>
<circle cx="61.2" cy="34.4" r="3.70" fill="rgb(62,62,62)"/>
<circle cx="60.1" cy="36.3" r="3.70" fill="rgb(56,56,56)"/>
<circle cx="59.0" cy="38.4" r="3.70" fill="rgb(50,50,50)"/>
<circle cx="58.0" cy="40.4" r="3.69" fill="rgb(45,45,45)"/>
<circle cx="57.1" cy="42.5" r="3.64" fill="rgb(40,40,40)"/>
<circle cx="56.3" cy="44.6" r="3.57" fill="rgb(34,34,34)"/>
<circle cx="55.4" cy="46.7" r="3.52" fill="rgb(29,29,29)"/>
<circle cx="54.7" cy="48.9" r="3.47" fill="rgb(23,23,23)"/>
<circle cx="54.1" cy="51.1" r="3.39" fill="rgb(18,18,18)"/>
<circle cx="53.7" cy="53.3" r="3.28" fill="rgb(13,13,13)"/>
<circle cx="53.5" cy="55.6" r="3.13" fill="rgb(8,8,8)"/>
<circle cx="93.4" cy="55.4" r="0.32" fill="rgb(171,171,171)"/>
<circle cx="94.3" cy="57.6" r="0.39" fill="rgb(152,152,152)"/>
<circle cx="95.9" cy="59.2" r="0.46" fill="rgb(139,139,139)"/>
<circle cx="97.8" cy="60.3" r="0.52" fill="rgb(128,128,128)"/>
<circle cx="100.0" cy="61.0" r="0.59" fill="rgb(120,120,120)"/>
<circle cx="102.3" cy="61.4" r="0.65" fill="rgb(115,115,115)"/>
<circle cx="104.6" cy="61.4" r="0.72" fill="rgb(110,110,110)"/>
<circle cx="106.9" cy="61.0" r="0.80" fill="rgb(109,109,109)"/>
<circle cx="109.0" cy="60.4" r="0.91" fill="rgb(109,109,109)"/>
<circle cx="111.1" cy="59.5" r="1.03" fill="rgb(109,109,109)"/>
<circle cx="113.1" cy="58.3" r="1.16" fill="rgb(111,111,111)"/>
<circle cx="114.9" cy="56.9" r="1.30" fill="rgb(114,114,114)"/>
<circle cx="116.6" cy="55.4" r="1.44" fill="rgb(118,118,118)"/>
<circle cx="118.2" cy="53.8" r="1.58" fill="rgb(124,124,124)"/>
<circle cx="119.7" cy="52.1" r="1.73" fill="rgb(130,130,130)"/>
<circle cx="121.2" cy="50.3" r="1.85" fill="rgb(132,132,132)"/>
<circle cx="122.5" cy="48.5" r="1.95" fill="rgb(132,132,132)"/>
<circle cx="123.8" cy="46.6" r="2.04" fill="rgb(132,132,132)"/>
<circle cx="124.9" cy="44.6" r="2.14" fill="rgb(131,131,131)"/>
<circle cx="125.7" cy="42.5" r="2.24" fill="rgb(126,126,126)"/>
<circle cx="126.3" cy="40.3" r="2.31" fill="rgb(119,119,119)"/>
<circle cx="126.5" cy="38.0" r="2.35" fill="rgb(113,113,113)"/>
<circle cx="126.4" cy="35.7" r="2.38" fill="rgb(106,106,106)"/>
<circle cx="126.1" cy="33.4" r="2.40" fill="rgb(99,99,99)"/>
<circle cx="125.6" cy="31.2" r="2.39" fill="rgb(93,93,93)"/>
<circle cx="124.9" cy="29.0" r="2.36" fill="rgb(88,88,88)"/>
<circle cx="124.0" cy="26.9" r="2.32" fill="rgb(84,84,84)"/>
<circle cx="122.7" cy="25.0" r="2.27" fill="rgb(81,81,81)"/>
<circle cx="121.3" cy="23.3" r="2.21" fill="rgb(77,77,77)"/>
<circle cx="119.7" cy="21.7" r="2.15" fill="rgb(75,75,75)"/>
<circle cx="117.9" cy="20.2" r="2.09" fill="rgb(72,72,72)"/>
<circle cx="116.1" cy="18.8" r="2.03" fill="rgb(70,70,70)"/>
<circle cx="114.2" cy="17.5" r="1.98" fill="rgb(67,67,67)"/>
<circle cx="112.3" cy="16.4" r="1.94" fill="rgb(65,65,65)"/>
<circle cx="110.2" cy="15.4" r="1.92" fill="rgb(64,64,64)"/>
<circle cx="108.1" cy="14.5" r="1.92" fill="rgb(64,64,64)"/>
<circle cx="106.0" cy="13.8" r="1.92" fill="rgb(64,64,64)"/>
<circle cx="103.8" cy="13.2" r="1.92" fill="rgb(65,65,65)"/>
<circle cx="101.5" cy="12.8" r="1.92" fill="rgb(72,72,72)"/>
<circle cx="99.2" cy="12.7" r="1.92" fill="rgb(80,80,80)"/>
<circle cx="97.0" cy="12.6" r="1.92" fill="rgb(92,92,92)"/>
<circle cx="94.7" cy="12.8" r="1.92" fill="rgb(105,105,105)"/>
<circle cx="92.4" cy="13.1" r="1.90" fill="rgb(122,122,122)"/>
<circle cx="90.2" cy="13.6" r="1.87" fill="rgb(142,142,142)"/>
<circle cx="88.0" cy="14.3" r="1.84" fill="rgb(157,157,157)"/>
<circle cx="85.9" cy="15.1" r="1.84" fill="rgb(165,165,165)"/>
<circle cx="83.8" cy="15.9" r="1.84" fill="rgb(171,171,171)"/>
<circle cx="81.7" cy="16.9" r="1.84" fill="rgb(176,176,176)"/>
<circle cx="79.7" cy="17.9" r="1.84" fill="rgb(178,178,178)"/>
<circle cx="77.7" cy="19.0" r="1.85" fill="rgb(176,176,176)"/>
<circle cx="75.7" cy="20.2" r="1.87" fill="rgb(170,170,170)"/>
<circle cx="73.8" cy="21.4" r="1.90" fill="rgb(161,161,161)"/>
<circle cx="72.0" cy="22.7" r="1.92" fill="rgb(152,152,152)"/>
<circle cx="70.2" cy="24.1" r="1.94" fill="rgb(141,141,141)"/>
<circle cx="68.5" cy="25.6" r="1.97" fill="rgb(126,126,126)"/>
<circle cx="66.8" cy="27.2" r="1.99" fill="rgb(111,111,111)"/>
<circle cx="65.3" cy="28.9" r="2.02" fill="rgb(99,99,99)"/>
<circle cx="63.9" cy="30.7" r="2.06" fill="rgb(89,89,89)"/>
<circle cx="62.5" cy="32.5" r="2.08" fill="rgb(80,80,80)"/>
<circle cx="61.2" cy="34.4" r="2.08" fill="rgb(72,72,72)"/>
<circle cx="60.1" cy="36.3" r="2.08" fill="rgb(65,65,65)"/>
<circle cx="59.0" cy="38.4" r="2.08" fill="rgb(59,59,59)"/>
<circle cx="58.0" cy="40.4" r="2.07" fill="rgb(52,52,52)"/>
<circle cx="57.1" cy="42.5" r="2.04" fill="rgb(46,46,46)"/>
<circle cx="56.3" cy="44.6" r="2.01" fill="rgb(40,40,40)"/>
<circle cx="55.4" cy="46.7" r="1.98" fill="rgb(33,33,33)"/>
<circle cx="54.7" cy="48.9" r="1.95" fill="rgb(27,27,27)"/>
<circle cx="54.1" cy="51.1" r="1.90" fill="rgb(21,21,21)"/>
<circle cx="53.7" cy="53.3" r="1.84" fill="rgb(15,15,15)"/>
<circle cx="53.5" cy="55.6" r="1.76" fill="rgb(9,9,9)"/>
</g></g>

<g clip-path="url(#clipfb)"><g filter="url(#fb)" class="h">
<rect x="166.6" y="-15" width="159.20000000000002" height="136.1" fill="#000"/>
<circle cx="238.0" cy="52.0" r="23.52" fill="rgb(2,2,2)"/>
<circle cx="237.5" cy="46.4" r="22.32" fill="rgb(2,2,2)"/>
<circle cx="240.4" cy="43.9" r="21.84" fill="rgb(2,2,2)"/>
<circle cx="245.2" cy="43.8" r="22.02" fill="rgb(2,2,2)"/>
<circle cx="250.3" cy="45.6" r="22.42" fill="rgb(2,2,2)"/>
<circle cx="254.4" cy="48.5" r="22.95" fill="rgb(2,2,2)"/>
<circle cx="256.0" cy="51.9" r="23.51" fill="rgb(2,2,2)"/>
<circle cx="254.0" cy="55.2" r="24.35" fill="rgb(2,2,2)"/>
<circle cx="249.6" cy="57.6" r="25.13" fill="rgb(2,2,2)"/>
<circle cx="244.4" cy="58.3" r="25.10" fill="rgb(2,2,2)"/>
<circle cx="240.0" cy="56.7" r="24.58" fill="rgb(2,2,2)"/>
<circle cx="238.0" cy="52.0" r="23.52" fill="rgb(2,2,2)"/>
<circle cx="238.0" cy="52.0" r="20.02" fill="rgb(3,3,3)"/>
<circle cx="237.5" cy="46.4" r="19.00" fill="rgb(3,3,3)"/>
<circle cx="240.4" cy="43.9" r="18.59" fill="rgb(3,3,3)"/>
<circle cx="245.2" cy="43.8" r="18.74" fill="rgb(3,3,3)"/>
<circle cx="250.3" cy="45.6" r="19.09" fill="rgb(3,3,3)"/>
<circle cx="254.4" cy="48.5" r="19.54" fill="rgb(3,3,3)"/>
<circle cx="256.0" cy="51.9" r="20.01" fill="rgb(3,3,3)"/>
<circle cx="254.0" cy="55.2" r="20.73" fill="rgb(3,3,3)"/>
<circle cx="249.6" cy="57.6" r="21.39" fill="rgb(3,3,3)"/>
<circle cx="244.4" cy="58.3" r="21.37" fill="rgb(3,3,3)"/>
<circle cx="240.0" cy="56.7" r="20.92" fill="rgb(3,3,3)"/>
<circle cx="238.0" cy="52.0" r="20.02" fill="rgb(3,3,3)"/>
<circle cx="238.0" cy="52.0" r="16.94" fill="rgb(5,5,5)"/>
<circle cx="237.5" cy="46.4" r="16.08" fill="rgb(5,5,5)"/>
<circle cx="240.4" cy="43.9" r="15.73" fill="rgb(5,5,5)"/>
<circle cx="245.2" cy="43.8" r="15.86" fill="rgb(5,5,5)"/>
<circle cx="250.3" cy="45.6" r="16.15" fill="rgb(5,5,5)"/>
<circle cx="254.4" cy="48.5" r="16.53" fill="rgb(5,5,5)"/>
<circle cx="256.0" cy="51.9" r="16.93" fill="rgb(5,5,5)"/>
<circle cx="254.0" cy="55.2" r="17.54" fill="rgb(5,5,5)"/>
<circle cx="249.6" cy="57.6" r="18.10" fill="rgb(5,5,5)"/>
<circle cx="244.4" cy="58.3" r="18.08" fill="rgb(5,5,5)"/>
<circle cx="240.0" cy="56.7" r="17.70" fill="rgb(5,5,5)"/>
<circle cx="238.0" cy="52.0" r="16.94" fill="rgb(5,5,5)"/>
<circle cx="238.0" cy="52.0" r="14.00" fill="rgb(7,7,7)"/>
<circle cx="237.5" cy="46.4" r="13.29" fill="rgb(7,7,7)"/>
<circle cx="240.4" cy="43.9" r="13.00" fill="rgb(6,6,6)"/>
<circle cx="245.2" cy="43.8" r="13.11" fill="rgb(6,6,6)"/>
<circle cx="250.3" cy="45.6" r="13.35" fill="rgb(7,7,7)"/>
<circle cx="254.4" cy="48.5" r="13.66" fill="rgb(7,7,7)"/>
<circle cx="256.0" cy="51.9" r="14.00" fill="rgb(7,7,7)"/>
<circle cx="254.0" cy="55.2" r="14.50" fill="rgb(7,7,7)"/>
<circle cx="249.6" cy="57.6" r="14.96" fill="rgb(7,7,7)"/>
<circle cx="244.4" cy="58.3" r="14.94" fill="rgb(7,7,7)"/>
<circle cx="240.0" cy="56.7" r="14.63" fill="rgb(7,7,7)"/>
<circle cx="238.0" cy="52.0" r="14.00" fill="rgb(7,7,7)"/>
<circle cx="238.0" cy="52.0" r="11.06" fill="rgb(9,9,9)"/>
<circle cx="237.5" cy="46.4" r="10.50" fill="rgb(9,9,9)"/>
<circle cx="240.4" cy="43.9" r="10.27" fill="rgb(8,8,8)"/>
<circle cx="245.2" cy="43.8" r="10.35" fill="rgb(8,8,8)"/>
<circle cx="250.3" cy="45.6" r="10.54" fill="rgb(9,9,9)"/>
<circle cx="254.4" cy="48.5" r="10.79" fill="rgb(9,9,9)"/>
<circle cx="256.0" cy="51.9" r="11.06" fill="rgb(9,9,9)"/>
<circle cx="254.0" cy="55.2" r="11.45" fill="rgb(9,9,9)"/>
<circle cx="249.6" cy="57.6" r="11.82" fill="rgb(9,9,9)"/>
<circle cx="244.4" cy="58.3" r="11.81" fill="rgb(9,9,9)"/>
<circle cx="240.0" cy="56.7" r="11.56" fill="rgb(9,9,9)"/>
<circle cx="238.0" cy="52.0" r="11.06" fill="rgb(9,9,9)"/>
<circle cx="238.0" cy="52.0" r="7.98" fill="rgb(11,11,11)"/>
<circle cx="237.5" cy="46.4" r="7.57" fill="rgb(10,10,10)"/>
<circle cx="240.4" cy="43.9" r="7.41" fill="rgb(10,10,10)"/>
<circle cx="245.2" cy="43.8" r="7.47" fill="rgb(10,10,10)"/>
<circle cx="250.3" cy="45.6" r="7.61" fill="rgb(11,11,11)"/>
<circle cx="254.4" cy="48.5" r="7.79" fill="rgb(11,11,11)"/>
<circle cx="256.0" cy="51.9" r="7.98" fill="rgb(11,11,11)"/>
<circle cx="254.0" cy="55.2" r="8.26" fill="rgb(11,11,11)"/>
<circle cx="249.6" cy="57.6" r="8.53" fill="rgb(11,11,11)"/>
<circle cx="244.4" cy="58.3" r="8.52" fill="rgb(11,11,11)"/>
<circle cx="240.0" cy="56.7" r="8.34" fill="rgb(11,11,11)"/>
<circle cx="238.0" cy="52.0" r="7.98" fill="rgb(11,11,11)"/>
<circle cx="238.0" cy="52.0" r="4.48" fill="rgb(13,13,13)"/>
<circle cx="237.5" cy="46.4" r="4.25" fill="rgb(12,12,12)"/>
<circle cx="240.4" cy="43.9" r="4.16" fill="rgb(12,12,12)"/>
<circle cx="245.2" cy="43.8" r="4.19" fill="rgb(12,12,12)"/>
<circle cx="250.3" cy="45.6" r="4.27" fill="rgb(12,12,12)"/>
<circle cx="254.4" cy="48.5" r="4.37" fill="rgb(13,13,13)"/>
<circle cx="256.0" cy="51.9" r="4.48" fill="rgb(13,13,13)"/>
<circle cx="254.0" cy="55.2" r="4.64" fill="rgb(13,13,13)"/>
<circle cx="249.6" cy="57.6" r="4.79" fill="rgb(13,13,13)"/>
<circle cx="244.4" cy="58.3" r="4.78" fill="rgb(13,13,13)"/>
<circle cx="240.0" cy="56.7" r="4.68" fill="rgb(13,13,13)"/>
<circle cx="238.0" cy="52.0" r="4.48" fill="rgb(13,13,13)"/><circle cx="236.0" cy="27.0" r="10.00" fill="rgb(3,3,3)"/>
<circle cx="236.7" cy="28.1" r="9.86" fill="rgb(3,3,3)"/>
<circle cx="237.5" cy="29.2" r="9.61" fill="rgb(3,3,3)"/>
<circle cx="238.3" cy="30.2" r="9.29" fill="rgb(3,3,3)"/>
<circle cx="239.2" cy="31.2" r="8.92" fill="rgb(3,3,3)"/>
<circle cx="240.1" cy="32.2" r="8.41" fill="rgb(3,3,3)"/>
<circle cx="241.0" cy="33.1" r="7.75" fill="rgb(3,3,3)"/>
<circle cx="242.0" cy="34.0" r="7.00" fill="rgb(2,2,2)"/>
<circle cx="236.0" cy="27.0" r="8.40" fill="rgb(6,6,6)"/>
<circle cx="236.7" cy="28.1" r="8.28" fill="rgb(7,7,7)"/>
<circle cx="237.5" cy="29.2" r="8.08" fill="rgb(7,7,7)"/>
<circle cx="238.3" cy="30.2" r="7.80" fill="rgb(7,7,7)"/>
<circle cx="239.2" cy="31.2" r="7.49" fill="rgb(7,7,7)"/>
<circle cx="240.1" cy="32.2" r="7.06" fill="rgb(7,7,7)"/>
<circle cx="241.0" cy="33.1" r="6.51" fill="rgb(6,6,6)"/>
<circle cx="242.0" cy="34.0" r="5.88" fill="rgb(5,5,5)"/>
<circle cx="236.0" cy="27.0" r="7.15" fill="rgb(11,11,11)"/>
<circle cx="236.7" cy="28.1" r="7.05" fill="rgb(12,12,12)"/>
<circle cx="237.5" cy="29.2" r="6.87" fill="rgb(12,12,12)"/>
<circle cx="238.3" cy="30.2" r="6.64" fill="rgb(12,12,12)"/>
<circle cx="239.2" cy="31.2" r="6.37" fill="rgb(12,12,12)"/>
<circle cx="240.1" cy="32.2" r="6.01" fill="rgb(12,12,12)"/>
<circle cx="241.0" cy="33.1" r="5.54" fill="rgb(11,11,11)"/>
<circle cx="242.0" cy="34.0" r="5.00" fill="rgb(9,9,9)"/>
<circle cx="236.0" cy="27.0" r="6.05" fill="rgb(17,17,17)"/>
<circle cx="236.7" cy="28.1" r="5.97" fill="rgb(18,18,18)"/>
<circle cx="237.5" cy="29.2" r="5.82" fill="rgb(18,18,18)"/>
<circle cx="238.3" cy="30.2" r="5.62" fill="rgb(18,18,18)"/>
<circle cx="239.2" cy="31.2" r="5.39" fill="rgb(18,18,18)"/>
<circle cx="240.1" cy="32.2" r="5.09" fill="rgb(18,18,18)"/>
<circle cx="241.0" cy="33.1" r="4.69" fill="rgb(16,16,16)"/>
<circle cx="242.0" cy="34.0" r="4.23" fill="rgb(14,14,14)"/>
<circle cx="236.0" cy="27.0" r="5.00" fill="rgb(23,23,23)"/>
<circle cx="236.7" cy="28.1" r="4.93" fill="rgb(24,24,24)"/>
<circle cx="237.5" cy="29.2" r="4.81" fill="rgb(25,25,25)"/>
<circle cx="238.3" cy="30.2" r="4.64" fill="rgb(25,25,25)"/>
<circle cx="239.2" cy="31.2" r="4.46" fill="rgb(25,25,25)"/>
<circle cx="240.1" cy="32.2" r="4.20" fill="rgb(24,24,24)"/>
<circle cx="241.0" cy="33.1" r="3.88" fill="rgb(22,22,22)"/>
<circle cx="242.0" cy="34.0" r="3.50" fill="rgb(19,19,19)"/>
<circle cx="236.0" cy="27.0" r="3.95" fill="rgb(30,30,30)"/>
<circle cx="236.7" cy="28.1" r="3.90" fill="rgb(32,32,32)"/>
<circle cx="237.5" cy="29.2" r="3.80" fill="rgb(33,33,33)"/>
<circle cx="238.3" cy="30.2" r="3.67" fill="rgb(33,33,33)"/>
<circle cx="239.2" cy="31.2" r="3.52" fill="rgb(33,33,33)"/>
<circle cx="240.1" cy="32.2" r="3.32" fill="rgb(32,32,32)"/>
<circle cx="241.0" cy="33.1" r="3.06" fill="rgb(29,29,29)"/>
<circle cx="242.0" cy="34.0" r="2.76" fill="rgb(25,25,25)"/>
<circle cx="236.0" cy="27.0" r="2.85" fill="rgb(37,37,37)"/>
<circle cx="236.7" cy="28.1" r="2.81" fill="rgb(39,39,39)"/>
<circle cx="237.5" cy="29.2" r="2.74" fill="rgb(40,40,40)"/>
<circle cx="238.3" cy="30.2" r="2.65" fill="rgb(41,41,41)"/>
<circle cx="239.2" cy="31.2" r="2.54" fill="rgb(41,41,41)"/>
<circle cx="240.1" cy="32.2" r="2.40" fill="rgb(39,39,39)"/>
<circle cx="241.0" cy="33.1" r="2.21" fill="rgb(35,35,35)"/>
<circle cx="242.0" cy="34.0" r="1.99" fill="rgb(31,31,31)"/>
<circle cx="236.0" cy="27.0" r="1.60" fill="rgb(43,43,43)"/>
<circle cx="236.7" cy="28.1" r="1.58" fill="rgb(46,46,46)"/>
<circle cx="237.5" cy="29.2" r="1.54" fill="rgb(47,47,47)"/>
<circle cx="238.3" cy="30.2" r="1.49" fill="rgb(47,47,47)"/>
<circle cx="239.2" cy="31.2" r="1.43" fill="rgb(47,47,47)"/>
<circle cx="240.1" cy="32.2" r="1.35" fill="rgb(45,45,45)"/>
<circle cx="241.0" cy="33.1" r="1.24" fill="rgb(41,41,41)"/>
<circle cx="242.0" cy="34.0" r="1.12" fill="rgb(36,36,36)"/><circle cx="252.1" cy="64.5" r="7.26" fill="rgb(2,2,2)"/>
<circle cx="254.4" cy="64.0" r="7.58" fill="rgb(2,2,2)"/>
<circle cx="256.7" cy="63.4" r="7.99" fill="rgb(2,2,2)"/>
<circle cx="259.0" cy="62.6" r="8.60" fill="rgb(3,3,3)"/>
<circle cx="261.3" cy="61.8" r="9.38" fill="rgb(3,3,3)"/>
<circle cx="263.5" cy="60.8" r="10.17" fill="rgb(4,4,4)"/>
<circle cx="265.7" cy="59.6" r="10.98" fill="rgb(5,5,5)"/>
<circle cx="267.8" cy="58.3" r="11.80" fill="rgb(5,5,5)"/>
<circle cx="269.8" cy="56.8" r="12.59" fill="rgb(6,6,6)"/>
<circle cx="271.7" cy="55.2" r="13.36" fill="rgb(7,7,7)"/>
<circle cx="273.4" cy="53.3" r="14.13" fill="rgb(7,7,7)"/>
<circle cx="275.0" cy="51.3" r="14.94" fill="rgb(8,8,8)"/>
<circle cx="276.3" cy="49.2" r="15.70" fill="rgb(9,9,9)"/>
<circle cx="277.4" cy="46.9" r="16.28" fill="rgb(9,9,9)"/>
<circle cx="278.3" cy="44.5" r="16.80" fill="rgb(9,9,9)"/>
<circle cx="278.9" cy="42.1" r="17.00" fill="rgb(10,10,10)"/>
<circle cx="279.2" cy="39.6" r="17.00" fill="rgb(10,10,10)"/>
<circle cx="279.3" cy="37.0" r="17.00" fill="rgb(10,10,10)"/>
<circle cx="279.2" cy="34.5" r="17.00" fill="rgb(10,10,10)"/>
<circle cx="278.8" cy="32.0" r="17.00" fill="rgb(10,10,10)"/>
<circle cx="278.2" cy="29.5" r="17.00" fill="rgb(9,9,9)"/>
<circle cx="277.4" cy="27.2" r="17.00" fill="rgb(9,9,9)"/>
<circle cx="276.2" cy="25.0" r="16.95" fill="rgb(9,9,9)"/>
<circle cx="274.8" cy="22.9" r="16.81" fill="rgb(9,9,9)"/>
<circle cx="273.2" cy="20.9" r="16.64" fill="rgb(9,9,9)"/>
<circle cx="271.5" cy="19.0" r="16.49" fill="rgb(9,9,9)"/>
<circle cx="269.8" cy="17.1" r="16.34" fill="rgb(9,9,9)"/>
<circle cx="268.0" cy="15.3" r="16.18" fill="rgb(9,9,9)"/>
<circle cx="266.2" cy="13.7" r="16.05" fill="rgb(9,9,9)"/>
<circle cx="264.2" cy="12.2" r="16.00" fill="rgb(10,10,10)"/>
<circle cx="262.0" cy="10.9" r="16.00" fill="rgb(10,10,10)"/>
<circle cx="259.7" cy="9.8" r="16.00" fill="rgb(10,10,10)"/>
<circle cx="257.3" cy="9.0" r="16.00" fill="rgb(11,11,11)"/>
<circle cx="254.9" cy="8.5" r="16.00" fill="rgb(12,12,12)"/>
<circle cx="252.4" cy="8.2" r="16.05" fill="rgb(12,12,12)"/>
<circle cx="249.9" cy="8.2" r="16.30" fill="rgb(13,13,13)"/>
<circle cx="247.4" cy="8.4" r="16.68" fill="rgb(14,14,14)"/>
<circle cx="244.9" cy="8.8" r="17.08" fill="rgb(15,15,15)"/>
<circle cx="242.4" cy="9.4" r="17.56" fill="rgb(15,15,15)"/>
<circle cx="240.0" cy="10.0" r="18.14" fill="rgb(16,16,16)"/>
<circle cx="237.5" cy="10.8" r="18.73" fill="rgb(16,16,16)"/>
<circle cx="235.1" cy="11.7" r="19.30" fill="rgb(16,16,16)"/>
<circle cx="232.6" cy="12.6" r="19.93" fill="rgb(17,17,17)"/>
<circle cx="230.2" cy="13.7" r="20.42" fill="rgb(17,17,17)"/>
<circle cx="227.9" cy="14.9" r="20.68" fill="rgb(17,17,17)"/>
<circle cx="225.7" cy="16.3" r="20.89" fill="rgb(17,17,17)"/>
<circle cx="223.6" cy="17.8" r="21.00" fill="rgb(17,17,17)"/>
<circle cx="221.6" cy="19.5" r="20.89" fill="rgb(16,16,16)"/>
<circle cx="219.8" cy="21.4" r="20.51" fill="rgb(15,15,15)"/>
<circle cx="218.2" cy="23.4" r="20.02" fill="rgb(13,13,13)"/>
<circle cx="216.8" cy="25.5" r="19.43" fill="rgb(11,11,11)"/>
<circle cx="215.7" cy="27.8" r="18.69" fill="rgb(10,10,10)"/>
<circle cx="214.7" cy="30.1" r="18.02" fill="rgb(9,9,9)"/>
<circle cx="213.8" cy="32.4" r="17.51" fill="rgb(8,8,8)"/>
<circle cx="212.9" cy="34.7" r="17.06" fill="rgb(7,7,7)"/>
<circle cx="212.1" cy="37.0" r="16.63" fill="rgb(7,7,7)"/>
<circle cx="211.3" cy="39.3" r="16.18" fill="rgb(6,6,6)"/>
<circle cx="210.5" cy="41.6" r="15.73" fill="rgb(5,5,5)"/>
<circle cx="209.8" cy="43.8" r="15.30" fill="rgb(4,4,4)"/>
<circle cx="209.1" cy="46.0" r="14.92" fill="rgb(4,4,4)"/>
<circle cx="208.4" cy="48.3" r="14.62" fill="rgb(3,3,3)"/>
<circle cx="207.8" cy="50.5" r="14.35" fill="rgb(2,2,2)"/>
<circle cx="207.2" cy="52.7" r="14.06" fill="rgb(2,2,2)"/>
<circle cx="242.8" cy="64.2" r="5.04" fill="rgb(2,2,2)"/>
<circle cx="245.1" cy="64.5" r="5.29" fill="rgb(3,3,3)"/>
<circle cx="247.4" cy="64.6" r="5.55" fill="rgb(3,3,3)"/>
<circle cx="249.7" cy="64.5" r="5.82" fill="rgb(3,3,3)"/>
<circle cx="252.0" cy="64.1" r="6.09" fill="rgb(4,4,4)"/>
<circle cx="254.3" cy="63.7" r="6.37" fill="rgb(5,5,5)"/>
<circle cx="256.6" cy="63.0" r="6.71" fill="rgb(5,5,5)"/>
<circle cx="258.8" cy="62.3" r="7.22" fill="rgb(6,6,6)"/>
<circle cx="261.0" cy="61.4" r="7.88" fill="rgb(8,8,8)"/>
<circle cx="263.2" cy="60.4" r="8.54" fill="rgb(9,9,9)"/>
<circle cx="265.3" cy="59.2" r="9.22" fill="rgb(11,11,11)"/>
<circle cx="267.4" cy="57.9" r="9.91" fill="rgb(12,12,12)"/>
<circle cx="269.3" cy="56.5" r="10.57" fill="rgb(14,14,14)"/>
<circle cx="271.1" cy="54.8" r="11.22" fill="rgb(16,16,16)"/>
<circle cx="272.8" cy="53.0" r="11.87" fill="rgb(17,17,17)"/>
<circle cx="274.3" cy="51.1" r="12.55" fill="rgb(19,19,19)"/>
<circle cx="275.6" cy="49.0" r="13.19" fill="rgb(20,20,20)"/>
<circle cx="276.7" cy="46.7" r="13.67" fill="rgb(21,21,21)"/>
<circle cx="277.5" cy="44.4" r="14.11" fill="rgb(22,22,22)"/>
<circle cx="278.1" cy="42.0" r="14.28" fill="rgb(22,22,22)"/>
<circle cx="278.4" cy="39.6" r="14.28" fill="rgb(22,22,22)"/>
<circle cx="278.5" cy="37.1" r="14.28" fill="rgb(22,22,22)"/>
<circle cx="278.4" cy="34.6" r="14.28" fill="rgb(22,22,22)"/>
<circle cx="278.0" cy="32.2" r="14.28" fill="rgb(22,22,22)"/>
<circle cx="277.5" cy="29.8" r="14.28" fill="rgb(22,22,22)"/>
<circle cx="276.6" cy="27.5" r="14.28" fill="rgb(22,22,22)"/>
<circle cx="275.5" cy="25.3" r="14.24" fill="rgb(22,22,22)"/>
<circle cx="274.1" cy="23.3" r="14.12" fill="rgb(22,22,22)"/>
<circle cx="272.6" cy="21.4" r="13.98" fill="rgb(21,21,21)"/>
<circle cx="270.9" cy="19.5" r="13.85" fill="rgb(21,21,21)"/>
<circle cx="269.3" cy="17.7" r="13.73" fill="rgb(22,22,22)"/>
<circle cx="267.5" cy="15.9" r="13.59" fill="rgb(22,22,22)"/>
<circle cx="265.7" cy="14.3" r="13.49" fill="rgb(22,22,22)"/>
<circle cx="263.8" cy="12.9" r="13.44" fill="rgb(22,22,22)"/>
<circle cx="261.7" cy="11.6" r="13.44" fill="rgb(23,23,23)"/>
<circle cx="259.4" cy="10.5" r="13.44" fill="rgb(24,24,24)"/>
<circle cx="257.1" cy="9.8" r="13.44" fill="rgb(26,26,26)"/>
<circle cx="254.7" cy="9.2" r="13.44" fill="rgb(27,27,27)"/>
<circle cx="252.2" cy="9.0" r="13.48" fill="rgb(29,29,29)"/>
<circle cx="249.8" cy="9.0" r="13.70" fill="rgb(31,31,31)"/>
<circle cx="247.4" cy="9.2" r="14.01" fill="rgb(33,33,33)"/>
<circle cx="244.9" cy="9.6" r="14.35" fill="rgb(34,34,34)"/>
<circle cx="242.5" cy="10.2" r="14.75" fill="rgb(35,35,35)"/>
<circle cx="240.2" cy="10.9" r="15.24" fill="rgb(36,36,36)"/>
<circle cx="237.8" cy="11.7" r="15.73" fill="rgb(37,37,37)"/>
<circle cx="235.4" cy="12.5" r="16.21" fill="rgb(38,38,38)"/>
<circle cx="233.1" cy="13.5" r="16.74" fill="rgb(39,39,39)"/>
<circle cx="230.8" cy="14.5" r="17.15" fill="rgb(39,39,39)"/>
<circle cx="228.5" cy="15.7" r="17.37" fill="rgb(39,39,39)"/>
<circle cx="226.4" cy="17.1" r="17.55" fill="rgb(39,39,39)"/>
<circle cx="224.3" cy="18.5" r="17.64" fill="rgb(39,39,39)"/>
<circle cx="222.4" cy="20.2" r="17.55" fill="rgb(37,37,37)"/>
<circle cx="220.6" cy="21.9" r="17.23" fill="rgb(34,34,34)"/>
<circle cx="219.0" cy="23.9" r="16.82" fill="rgb(30,30,30)"/>
<circle cx="217.7" cy="25.9" r="16.32" fill="rgb(27,27,27)"/>
<circle cx="216.5" cy="28.1" r="15.70" fill="rgb(23,23,23)"/>
<circle cx="215.5" cy="30.4" r="15.13" fill="rgb(20,20,20)"/>
<circle cx="214.6" cy="32.6" r="14.71" fill="rgb(18,18,18)"/>
<circle cx="213.7" cy="34.9" r="14.33" fill="rgb(17,17,17)"/>
<circle cx="212.9" cy="37.1" r="13.97" fill="rgb(16,16,16)"/>
<circle cx="212.1" cy="39.3" r="13.59" fill="rgb(14,14,14)"/>
<circle cx="211.3" cy="41.5" r="13.21" fill="rgb(12,12,12)"/>
<circle cx="210.5" cy="43.7" r="12.85" fill="rgb(10,10,10)"/>
<circle cx="209.8" cy="45.9" r="12.54" fill="rgb(8,8,8)"/>
<circle cx="209.1" cy="48.1" r="12.28" fill="rgb(7,7,7)"/>
<circle cx="208.5" cy="50.3" r="12.05" fill="rgb(5,5,5)"/>
<circle cx="207.9" cy="52.5" r="11.81" fill="rgb(4,4,4)"/>
<circle cx="207.4" cy="54.7" r="11.53" fill="rgb(3,3,3)"/>
<circle cx="206.9" cy="56.9" r="11.23" fill="rgb(2,2,2)"/>
<circle cx="242.8" cy="64.0" r="4.29" fill="rgb(4,4,4)"/>
<circle cx="245.1" cy="64.3" r="4.50" fill="rgb(4,4,4)"/>
<circle cx="247.4" cy="64.3" r="4.73" fill="rgb(5,5,5)"/>
<circle cx="249.7" cy="64.2" r="4.96" fill="rgb(6,6,6)"/>
<circle cx="252.0" cy="63.9" r="5.19" fill="rgb(7,7,7)"/>
<circle cx="254.2" cy="63.4" r="5.42" fill="rgb(8,8,8)"/>
<circle cx="256.5" cy="62.7" r="5.71" fill="rgb(9,9,9)"/>
<circle cx="258.7" cy="62.0" r="6.15" fill="rgb(11,11,11)"/>
<circle cx="260.8" cy="61.1" r="6.70" fill="rgb(13,13,13)"/>
<circle cx="263.0" cy="60.1" r="7.27" fill="rgb(15,15,15)"/>
<circle cx="265.0" cy="58.9" r="7.85" fill="rgb(18,18,18)"/>
<circle cx="267.0" cy="57.6" r="8.44" fill="rgb(21,21,21)"/>
<circle cx="268.9" cy="56.2" r="9.00" fill="rgb(24,24,24)"/>
<circle cx="270.7" cy="54.6" r="9.55" fill="rgb(27,27,27)"/>
<circle cx="272.3" cy="52.8" r="10.10" fill="rgb(30,30,30)"/>
<circle cx="273.8" cy="50.8" r="10.68" fill="rgb(32,32,32)"/>
<circle cx="275.0" cy="48.8" r="11.22" fill="rgb(35,35,35)"/>
<circle cx="276.1" cy="46.6" r="11.64" fill="rgb(36,36,36)"/>
<circle cx="276.9" cy="44.3" r="12.01" fill="rgb(38,38,38)"/>
<circle cx="277.5" cy="42.0" r="12.15" fill="rgb(39,39,39)"/>
<circle cx="277.8" cy="39.6" r="12.15" fill="rgb(39,39,39)"/>
<circle cx="277.9" cy="37.2" r="12.15" fill="rgb(39,39,39)"/>
<circle cx="277.8" cy="34.7" r="12.15" fill="rgb(39,39,39)"/>
<circle cx="277.4" cy="32.3" r="12.15" fill="rgb(38,38,38)"/>
<circle cx="276.8" cy="30.0" r="12.15" fill="rgb(38,38,38)"/>
<circle cx="276.0" cy="27.7" r="12.15" fill="rgb(37,37,37)"/>
<circle cx="274.9" cy="25.6" r="12.12" fill="rgb(37,37,37)"/>
<circle cx="273.6" cy="23.6" r="12.02" fill="rgb(37,37,37)"/>
<circle cx="272.1" cy="21.7" r="11.90" fill="rgb(37,37,37)"/>
<circle cx="270.5" cy="19.9" r="11.79" fill="rgb(37,37,37)"/>
<circle cx="268.8" cy="18.1" r="11.68" fill="rgb(37,37,37)"/>
<circle cx="267.1" cy="16.4" r="11.57" fill="rgb(37,37,37)"/>
<circle cx="265.4" cy="14.8" r="11.48" fill="rgb(38,38,38)"/>
<circle cx="263.4" cy="13.4" r="11.44" fill="rgb(39,39,39)"/>
<circle cx="261.4" cy="12.1" r="11.44" fill="rgb(40,40,40)"/>
<circle cx="259.2" cy="11.1" r="11.44" fill="rgb(42,42,42)"/>
<circle cx="256.9" cy="10.3" r="11.44" fill="rgb(44,44,44)"/>
<circle cx="254.5" cy="9.8" r="11.44" fill="rgb(47,47,47)"/>
<circle cx="252.1" cy="9.6" r="11.47" fill="rgb(49,49,49)"/>
<circle cx="249.7" cy="9.6" r="11.66" fill="rgb(53,53,53)"/>
<circle cx="247.3" cy="9.8" r="11.93" fill="rgb(56,56,56)"/>
<circle cx="245.0" cy="10.3" r="12.21" fill="rgb(59,59,59)"/>
<circle cx="242.6" cy="10.8" r="12.56" fill="rgb(61,61,61)"/>
<circle cx="240.3" cy="11.5" r="12.97" fill="rgb(62,62,62)"/>
<circle cx="238.0" cy="12.3" r="13.39" fill="rgb(64,64,64)"/>
<circle cx="235.7" cy="13.2" r="13.80" fill="rgb(65,65,65)"/>
<circle cx="233.4" cy="14.1" r="14.25" fill="rgb(66,66,66)"/>
<circle cx="231.2" cy="15.2" r="14.60" fill="rgb(67,67,67)"/>
<circle cx="229.0" cy="16.3" r="14.79" fill="rgb(67,67,67)"/>
<circle cx="226.9" cy="17.7" r="14.94" fill="rgb(66,66,66)"/>
<circle cx="224.9" cy="19.1" r="15.01" fill="rgb(66,66,66)"/>
<circle cx="223.0" cy="20.7" r="14.94" fill="rgb(64,64,64)"/>
<circle cx="221.2" cy="22.4" r="14.66" fill="rgb(58,58,58)"/>
<circle cx="219.7" cy="24.2" r="14.32" fill="rgb(52,52,52)"/>
<circle cx="218.3" cy="26.3" r="13.89" fill="rgb(46,46,46)"/>
<circle cx="217.2" cy="28.4" r="13.36" fill="rgb(39,39,39)"/>
<circle cx="216.2" cy="30.6" r="12.88" fill="rgb(34,34,34)"/>
<circle cx="215.2" cy="32.8" r="12.52" fill="rgb(32,32,32)"/>
<circle cx="214.3" cy="35.0" r="12.20" fill="rgb(29,29,29)"/>
<circle cx="213.5" cy="37.2" r="11.89" fill="rgb(27,27,27)"/>
<circle cx="212.7" cy="39.4" r="11.57" fill="rgb(24,24,24)"/>
<circle cx="211.9" cy="41.5" r="11.24" fill="rgb(21,21,21)"/>
<circle cx="211.1" cy="43.7" r="10.94" fill="rgb(17,17,17)"/>
<circle cx="210.4" cy="45.8" r="10.67" fill="rgb(14,14,14)"/>
<circle cx="209.7" cy="48.0" r="10.45" fill="rgb(12,12,12)"/>
<circle cx="209.0" cy="50.2" r="10.26" fill="rgb(9,9,9)"/>
<circle cx="208.4" cy="52.3" r="10.05" fill="rgb(7,7,7)"/>
<circle cx="207.9" cy="54.5" r="9.81" fill="rgb(5,5,5)"/>
<circle cx="207.4" cy="56.7" r="9.56" fill="rgb(3,3,3)"/>
<circle cx="207.0" cy="58.9" r="9.29" fill="rgb(2,2,2)"/>
<circle cx="242.9" cy="63.8" r="3.63" fill="rgb(6,6,6)"/>
<circle cx="245.1" cy="64.1" r="3.81" fill="rgb(6,6,6)"/>
<circle cx="247.4" cy="64.1" r="4.00" fill="rgb(8,8,8)"/>
<circle cx="249.7" cy="64.0" r="4.20" fill="rgb(9,9,9)"/>
<circle cx="251.9" cy="63.6" r="4.39" fill="rgb(10,10,10)"/>
<circle cx="254.2" cy="63.1" r="4.59" fill="rgb(12,12,12)"/>
<circle cx="256.4" cy="62.5" r="4.83" fill="rgb(14,14,14)"/>
<circle cx="258.5" cy="61.7" r="5.20" fill="rgb(16,16,16)"/>
<circle cx="260.7" cy="60.8" r="5.67" fill="rgb(19,19,19)"/>
<circle cx="262.8" cy="59.8" r="6.15" fill="rgb(23,23,23)"/>
<circle cx="264.8" cy="58.7" r="6.64" fill="rgb(27,27,27)"/>
<circle cx="266.7" cy="57.4" r="7.14" fill="rgb(32,32,32)"/>
<circle cx="268.6" cy="55.9" r="7.61" fill="rgb(36,36,36)"/>
<circle cx="270.3" cy="54.3" r="8.08" fill="rgb(41,41,41)"/>
<circle cx="271.9" cy="52.6" r="8.55" fill="rgb(45,45,45)"/>
<circle cx="273.3" cy="50.7" r="9.04" fill="rgb(48,48,48)"/>
<circle cx="274.5" cy="48.6" r="9.50" fill="rgb(52,52,52)"/>
<circle cx="275.5" cy="46.5" r="9.85" fill="rgb(55,55,55)"/>
<circle cx="276.3" cy="44.2" r="10.16" fill="rgb(57,57,57)"/>
<circle cx="276.9" cy="41.9" r="10.29" fill="rgb(58,58,58)"/>
<circle cx="277.2" cy="39.6" r="10.29" fill="rgb(58,58,58)"/>
<circle cx="277.3" cy="37.2" r="10.29" fill="rgb(58,58,58)"/>
<circle cx="277.2" cy="34.8" r="10.29" fill="rgb(58,58,58)"/>
<circle cx="276.9" cy="32.5" r="10.29" fill="rgb(57,57,57)"/>
<circle cx="276.3" cy="30.2" r="10.29" fill="rgb(57,57,57)"/>
<circle cx="275.5" cy="28.0" r="10.29" fill="rgb(56,56,56)"/>
<circle cx="274.4" cy="25.9" r="10.26" fill="rgb(56,56,56)"/>
<circle cx="273.1" cy="23.9" r="10.17" fill="rgb(55,55,55)"/>
<circle cx="271.6" cy="22.0" r="10.07" fill="rgb(55,55,55)"/>
<circle cx="270.1" cy="20.2" r="9.98" fill="rgb(55,55,55)"/>
<circle cx="268.5" cy="18.5" r="9.89" fill="rgb(55,55,55)"/>
<circle cx="266.8" cy="16.8" r="9.79" fill="rgb(56,56,56)"/>
<circle cx="265.0" cy="15.2" r="9.71" fill="rgb(57,57,57)"/>
<circle cx="263.2" cy="13.8" r="9.68" fill="rgb(58,58,58)"/>
<circle cx="261.1" cy="12.6" r="9.68" fill="rgb(60,60,60)"/>
<circle cx="259.0" cy="11.6" r="9.68" fill="rgb(63,63,63)"/>
<circle cx="256.7" cy="10.8" r="9.68" fill="rgb(66,66,66)"/>
<circle cx="254.4" cy="10.3" r="9.68" fill="rgb(70,70,70)"/>
<circle cx="252.0" cy="10.1" r="9.71" fill="rgb(74,74,74)"/>
<circle cx="249.7" cy="10.1" r="9.86" fill="rgb(79,79,79)"/>
<circle cx="247.3" cy="10.4" r="10.09" fill="rgb(84,84,84)"/>
<circle cx="245.0" cy="10.8" r="10.33" fill="rgb(88,88,88)"/>
<circle cx="242.7" cy="11.4" r="10.63" fill="rgb(91,91,91)"/>
<circle cx="240.5" cy="12.1" r="10.97" fill="rgb(93,93,93)"/>
<circle cx="238.2" cy="12.9" r="11.33" fill="rgb(96,96,96)"/>
<circle cx="236.0" cy="13.8" r="11.68" fill="rgb(97,97,97)"/>
<circle cx="233.7" cy="14.7" r="12.05" fill="rgb(99,99,99)"/>
<circle cx="231.5" cy="15.7" r="12.35" fill="rgb(100,100,100)"/>
<circle cx="229.4" cy="16.9" r="12.51" fill="rgb(100,100,100)"/>
<circle cx="227.4" cy="18.2" r="12.64" fill="rgb(100,100,100)"/>
<circle cx="225.4" cy="19.6" r="12.70" fill="rgb(99,99,99)"/>
<circle cx="223.5" cy="21.1" r="12.64" fill="rgb(96,96,96)"/>
<circle cx="221.8" cy="22.8" r="12.41" fill="rgb(87,87,87)"/>
<circle cx="220.3" cy="24.6" r="12.11" fill="rgb(78,78,78)"/>
<circle cx="218.9" cy="26.5" r="11.75" fill="rgb(68,68,68)"/>
<circle cx="217.8" cy="28.6" r="11.30" fill="rgb(59,59,59)"/>
<circle cx="216.7" cy="30.7" r="10.90" fill="rgb(52,52,52)"/>
<circle cx="215.8" cy="32.9" r="10.59" fill="rgb(47,47,47)"/>
<circle cx="214.9" cy="35.0" r="10.32" fill="rgb(44,44,44)"/>
<circle cx="214.1" cy="37.2" r="10.06" fill="rgb(41,41,41)"/>
<circle cx="213.2" cy="39.4" r="9.79" fill="rgb(36,36,36)"/>
<circle cx="212.4" cy="41.5" r="9.51" fill="rgb(31,31,31)"/>
<circle cx="211.6" cy="43.6" r="9.25" fill="rgb(26,26,26)"/>
<circle cx="210.9" cy="45.8" r="9.03" fill="rgb(21,21,21)"/>
<circle cx="210.1" cy="47.9" r="8.85" fill="rgb(17,17,17)"/>
<circle cx="209.4" cy="50.0" r="8.68" fill="rgb(14,14,14)"/>
<circle cx="208.8" cy="52.2" r="8.50" fill="rgb(11,11,11)"/>
<circle cx="208.3" cy="54.4" r="8.30" fill="rgb(8,8,8)"/>
<circle cx="207.8" cy="56.6" r="8.09" fill="rgb(5,5,5)"/>
<circle cx="207.4" cy="58.7" r="7.86" fill="rgb(3,3,3)"/>
<circle cx="242.9" cy="63.6" r="3.00" fill="rgb(8,8,8)"/>
<circle cx="245.1" cy="63.9" r="3.15" fill="rgb(9,9,9)"/>
<circle cx="247.4" cy="63.9" r="3.31" fill="rgb(11,11,11)"/>
<circle cx="249.6" cy="63.8" r="3.47" fill="rgb(12,12,12)"/>
<circle cx="251.9" cy="63.4" r="3.63" fill="rgb(14,14,14)"/>
<circle cx="254.1" cy="62.9" r="3.79" fill="rgb(16,16,16)"/>
<circle cx="256.3" cy="62.3" r="3.99" fill="rgb(19,19,19)"/>
<circle cx="258.4" cy="61.5" r="4.30" fill="rgb(23,23,23)"/>
<circle cx="260.5" cy="60.6" r="4.69" fill="rgb(27,27,27)"/>
<circle cx="262.6" cy="59.6" r="5.08" fill="rgb(32,32,32)"/>
<circle cx="264.6" cy="58.4" r="5.49" fill="rgb(38,38,38)"/>
<circle cx="266.5" cy="57.1" r="5.90" fill="rgb(44,44,44)"/>
<circle cx="268.3" cy="55.7" r="6.29" fill="rgb(50,50,50)"/>
<circle cx="270.0" cy="54.1" r="6.68" fill="rgb(57,57,57)"/>
<circle cx="271.5" cy="52.4" r="7.06" fill="rgb(62,62,62)"/>
<circle cx="272.9" cy="50.5" r="7.47" fill="rgb(67,67,67)"/>
<circle cx="274.1" cy="48.5" r="7.85" fill="rgb(72,72,72)"/>
<circle cx="275.0" cy="46.4" r="8.14" fill="rgb(76,76,76)"/>
<circle cx="275.8" cy="44.2" r="8.40" fill="rgb(79,79,79)"/>
<circle cx="276.4" cy="41.9" r="8.50" fill="rgb(80,80,80)"/>
<circle cx="276.7" cy="39.6" r="8.50" fill="rgb(80,80,80)"/>
<circle cx="276.8" cy="37.3" r="8.50" fill="rgb(80,80,80)"/>
<circle cx="276.7" cy="34.9" r="8.50" fill="rgb(80,80,80)"/>
<circle cx="276.4" cy="32.6" r="8.50" fill="rgb(80,80,80)"/>
<circle cx="275.8" cy="30.3" r="8.50" fill="rgb(79,79,79)"/>
<circle cx="275.0" cy="28.2" r="8.50" fill="rgb(78,78,78)"/>
<circle cx="273.9" cy="26.1" r="8.48" fill="rgb(77,77,77)"/>
<circle cx="272.6" cy="24.2" r="8.41" fill="rgb(77,77,77)"/>
<circle cx="271.2" cy="22.4" r="8.32" fill="rgb(77,77,77)"/>
<circle cx="269.7" cy="20.6" r="8.24" fill="rgb(77,77,77)"/>
<circle cx="268.1" cy="18.8" r="8.17" fill="rgb(77,77,77)"/>
<circle cx="266.5" cy="17.2" r="8.09" fill="rgb(78,78,78)"/>
<circle cx="264.7" cy="15.6" r="8.03" fill="rgb(79,79,79)"/>
<circle cx="262.9" cy="14.2" r="8.00" fill="rgb(80,80,80)"/>
<circle cx="260.9" cy="13.0" r="8.00" fill="rgb(83,83,83)"/>
<circle cx="258.8" cy="12.0" r="8.00" fill="rgb(87,87,87)"/>
<circle cx="256.6" cy="11.3" r="8.00" fill="rgb(92,92,92)"/>
<circle cx="254.3" cy="10.8" r="8.00" fill="rgb(97,97,97)"/>
<circle cx="252.0" cy="10.6" r="8.02" fill="rgb(103,103,103)"/>
<circle cx="249.6" cy="10.7" r="8.15" fill="rgb(110,110,110)"/>
<circle cx="247.3" cy="10.9" r="8.34" fill="rgb(117,117,117)"/>
<circle cx="245.1" cy="11.4" r="8.54" fill="rgb(122,122,122)"/>
<circle cx="242.8" cy="12.0" r="8.78" fill="rgb(126,126,126)"/>
<circle cx="240.6" cy="12.7" r="9.07" fill="rgb(130,130,130)"/>
<circle cx="238.4" cy="13.5" r="9.36" fill="rgb(133,133,133)"/>
<circle cx="236.2" cy="14.3" r="9.65" fill="rgb(135,135,135)"/>
<circle cx="234.0" cy="15.3" r="9.96" fill="rgb(138,138,138)"/>
<circle cx="231.9" cy="16.3" r="10.21" fill="rgb(139,139,139)"/>
<circle cx="229.8" cy="17.4" r="10.34" fill="rgb(139,139,139)"/>
<circle cx="227.8" cy="18.7" r="10.44" fill="rgb(139,139,139)"/>
<circle cx="225.9" cy="20.0" r="10.50" fill="rgb(138,138,138)"/>
<circle cx="224.0" cy="21.5" r="10.44" fill="rgb(134,134,134)"/>
<circle cx="222.3" cy="23.1" r="10.25" fill="rgb(121,121,121)"/>
<circle cx="220.8" cy="24.9" r="10.01" fill="rgb(108,108,108)"/>
<circle cx="219.5" cy="26.8" r="9.71" fill="rgb(95,95,95)"/>
<circle cx="218.3" cy="28.8" r="9.34" fill="rgb(82,82,82)"/>
<circle cx="217.3" cy="30.9" r="9.01" fill="rgb(72,72,72)"/>
<circle cx="216.3" cy="33.0" r="8.76" fill="rgb(66,66,66)"/>
<circle cx="215.4" cy="35.1" r="8.53" fill="rgb(61,61,61)"/>
<circle cx="214.6" cy="37.3" r="8.32" fill="rgb(56,56,56)"/>
<circle cx="213.7" cy="39.4" r="8.09" fill="rgb(50,50,50)"/>
<circle cx="212.9" cy="41.5" r="7.86" fill="rgb(43,43,43)"/>
<circle cx="212.1" cy="43.6" r="7.65" fill="rgb(36,36,36)"/>
<circle cx="211.3" cy="45.7" r="7.46" fill="rgb(29,29,29)"/>
<circle cx="210.6" cy="47.8" r="7.31" fill="rgb(24,24,24)"/>
<circle cx="209.9" cy="49.9" r="7.17" fill="rgb(19,19,19)"/>
<circle cx="209.2" cy="52.1" r="7.03" fill="rgb(15,15,15)"/>
<circle cx="208.7" cy="54.2" r="6.86" fill="rgb(11,11,11)"/>
<circle cx="208.2" cy="56.4" r="6.69" fill="rgb(7,7,7)"/>
<circle cx="207.8" cy="58.6" r="6.50" fill="rgb(4,4,4)"/>
<circle cx="242.9" cy="63.4" r="2.37" fill="rgb(10,10,10)"/>
<circle cx="245.2" cy="63.7" r="2.49" fill="rgb(12,12,12)"/>
<circle cx="247.4" cy="63.7" r="2.61" fill="rgb(14,14,14)"/>
<circle cx="249.6" cy="63.5" r="2.74" fill="rgb(16,16,16)"/>
<circle cx="251.8" cy="63.2" r="2.87" fill="rgb(19,19,19)"/>
<circle cx="254.0" cy="62.7" r="2.99" fill="rgb(21,21,21)"/>
<circle cx="256.2" cy="62.0" r="3.16" fill="rgb(25,25,25)"/>
<circle cx="258.3" cy="61.3" r="3.40" fill="rgb(29,29,29)"/>
<circle cx="260.3" cy="60.4" r="3.70" fill="rgb(35,35,35)"/>
<circle cx="262.4" cy="59.3" r="4.02" fill="rgb(41,41,41)"/>
<circle cx="264.3" cy="58.2" r="4.34" fill="rgb(49,49,49)"/>
<circle cx="266.2" cy="56.9" r="4.66" fill="rgb(58,58,58)"/>
<circle cx="268.0" cy="55.5" r="4.97" fill="rgb(66,66,66)"/>
<circle cx="269.6" cy="53.9" r="5.28" fill="rgb(73,73,73)"/>
<circle cx="271.1" cy="52.2" r="5.58" fill="rgb(81,81,81)"/>
<circle cx="272.4" cy="50.3" r="5.90" fill="rgb(88,88,88)"/>
<circle cx="273.6" cy="48.3" r="6.20" fill="rgb(94,94,94)"/>
<circle cx="274.5" cy="46.2" r="6.43" fill="rgb(98,98,98)"/>
<circle cx="275.3" cy="44.1" r="6.63" fill="rgb(103,103,103)"/>
<circle cx="275.8" cy="41.9" r="6.71" fill="rgb(104,104,104)"/>
<circle cx="276.2" cy="39.6" r="6.71" fill="rgb(104,104,104)"/>
<circle cx="276.3" cy="37.3" r="6.71" fill="rgb(104,104,104)"/>
<circle cx="276.2" cy="35.0" r="6.71" fill="rgb(104,104,104)"/>
<circle cx="275.8" cy="32.7" r="6.71" fill="rgb(104,104,104)"/>
<circle cx="275.3" cy="30.5" r="6.71" fill="rgb(102,102,102)"/>
<circle cx="274.5" cy="28.4" r="6.71" fill="rgb(101,101,101)"/>
<circle cx="273.5" cy="26.4" r="6.70" fill="rgb(101,101,101)"/>
<circle cx="272.2" cy="24.5" r="6.64" fill="rgb(100,100,100)"/>
<circle cx="270.8" cy="22.7" r="6.57" fill="rgb(100,100,100)"/>
<circle cx="269.3" cy="20.9" r="6.51" fill="rgb(99,99,99)"/>
<circle cx="267.7" cy="19.2" r="6.45" fill="rgb(100,100,100)"/>
<circle cx="266.1" cy="17.6" r="6.39" fill="rgb(101,101,101)"/>
<circle cx="264.4" cy="16.0" r="6.34" fill="rgb(103,103,103)"/>
<circle cx="262.6" cy="14.7" r="6.32" fill="rgb(104,104,104)"/>
<circle cx="260.7" cy="13.5" r="6.32" fill="rgb(108,108,108)"/>
<circle cx="258.6" cy="12.5" r="6.32" fill="rgb(113,113,113)"/>
<circle cx="256.4" cy="11.8" r="6.32" fill="rgb(119,119,119)"/>
<circle cx="254.2" cy="11.3" r="6.32" fill="rgb(126,126,126)"/>
<circle cx="251.9" cy="11.1" r="6.34" fill="rgb(134,134,134)"/>
<circle cx="249.6" cy="11.2" r="6.44" fill="rgb(143,143,143)"/>
<circle cx="247.3" cy="11.4" r="6.59" fill="rgb(152,152,152)"/>
<circle cx="245.1" cy="11.9" r="6.75" fill="rgb(159,159,159)"/>
<circle cx="242.9" cy="12.5" r="6.94" fill="rgb(164,164,164)"/>
<circle cx="240.7" cy="13.2" r="7.16" fill="rgb(169,169,169)"/>
<circle cx="238.6" cy="14.0" r="7.40" fill="rgb(172,172,172)"/>
<circle cx="236.4" cy="14.9" r="7.62" fill="rgb(176,176,176)"/>
<circle cx="234.3" cy="15.8" r="7.87" fill="rgb(179,179,179)"/>
<circle cx="232.2" cy="16.8" r="8.07" fill="rgb(181,181,181)"/>
<circle cx="230.2" cy="17.9" r="8.17" fill="rgb(181,181,181)"/>
<circle cx="228.2" cy="19.1" r="8.25" fill="rgb(180,180,180)"/>
<circle cx="226.3" cy="20.5" r="8.29" fill="rgb(179,179,179)"/>
<circle cx="224.5" cy="21.9" r="8.25" fill="rgb(174,174,174)"/>
<circle cx="222.9" cy="23.5" r="8.10" fill="rgb(158,158,158)"/>
<circle cx="221.4" cy="25.2" r="7.91" fill="rgb(140,140,140)"/>
<circle cx="220.0" cy="27.1" r="7.67" fill="rgb(124,124,124)"/>
<circle cx="218.9" cy="29.0" r="7.38" fill="rgb(106,106,106)"/>
<circle cx="217.8" cy="31.1" r="7.12" fill="rgb(93,93,93)"/>
<circle cx="216.9" cy="33.1" r="6.92" fill="rgb(85,85,85)"/>
<circle cx="216.0" cy="35.2" r="6.74" fill="rgb(79,79,79)"/>
<circle cx="215.1" cy="37.3" r="6.57" fill="rgb(73,73,73)"/>
<circle cx="214.2" cy="39.4" r="6.39" fill="rgb(65,65,65)"/>
<circle cx="213.4" cy="41.5" r="6.21" fill="rgb(56,56,56)"/>
<circle cx="212.6" cy="43.5" r="6.04" fill="rgb(46,46,46)"/>
<circle cx="211.8" cy="45.6" r="5.90" fill="rgb(38,38,38)"/>
<circle cx="211.0" cy="47.7" r="5.78" fill="rgb(31,31,31)"/>
<circle cx="210.3" cy="49.8" r="5.67" fill="rgb(25,25,25)"/>
<circle cx="209.7" cy="51.9" r="5.55" fill="rgb(19,19,19)"/>
<circle cx="209.1" cy="54.1" r="5.42" fill="rgb(14,14,14)"/>
<circle cx="208.6" cy="56.2" r="5.28" fill="rgb(9,9,9)"/>
<circle cx="208.2" cy="58.4" r="5.13" fill="rgb(5,5,5)"/>
<circle cx="243.0" cy="63.2" r="1.71" fill="rgb(12,12,12)"/>
<circle cx="245.2" cy="63.5" r="1.79" fill="rgb(14,14,14)"/>
<circle cx="247.4" cy="63.5" r="1.88" fill="rgb(17,17,17)"/>
<circle cx="249.6" cy="63.3" r="1.98" fill="rgb(20,20,20)"/>
<circle cx="251.8" cy="63.0" r="2.07" fill="rgb(23,23,23)"/>
<circle cx="253.9" cy="62.5" r="2.16" fill="rgb(26,26,26)"/>
<circle cx="256.1" cy="61.8" r="2.28" fill="rgb(30,30,30)"/>
<circle cx="258.1" cy="61.0" r="2.45" fill="rgb(36,36,36)"/>
<circle cx="260.2" cy="60.1" r="2.67" fill="rgb(43,43,43)"/>
<circle cx="262.2" cy="59.1" r="2.90" fill="rgb(51,51,51)"/>
<circle cx="264.1" cy="57.9" r="3.13" fill="rgb(60,60,60)"/>
<circle cx="265.9" cy="56.6" r="3.36" fill="rgb(71,71,71)"/>
<circle cx="267.6" cy="55.2" r="3.59" fill="rgb(81,81,81)"/>
<circle cx="269.2" cy="53.7" r="3.81" fill="rgb(90,90,90)"/>
<circle cx="270.7" cy="52.0" r="4.03" fill="rgb(99,99,99)"/>
<circle cx="272.0" cy="50.1" r="4.26" fill="rgb(108,108,108)"/>
<circle cx="273.1" cy="48.2" r="4.47" fill="rgb(115,115,115)"/>
<circle cx="274.0" cy="46.1" r="4.64" fill="rgb(121,121,121)"/>
<circle cx="274.8" cy="44.0" r="4.79" fill="rgb(126,126,126)"/>
<circle cx="275.3" cy="41.8" r="4.84" fill="rgb(129,129,129)"/>
<circle cx="275.6" cy="39.6" r="4.84" fill="rgb(129,129,129)"/>
<circle cx="275.7" cy="37.4" r="4.84" fill="rgb(129,129,129)"/>
<circle cx="275.6" cy="35.1" r="4.84" fill="rgb(128,128,128)"/>
<circle cx="275.3" cy="32.9" r="4.84" fill="rgb(128,128,128)"/>
<circle cx="274.8" cy="30.7" r="4.84" fill="rgb(126,126,126)"/>
<circle cx="274.0" cy="28.6" r="4.84" fill="rgb(125,125,125)"/>
<circle cx="273.0" cy="26.6" r="4.83" fill="rgb(124,124,124)"/>
<circle cx="271.7" cy="24.8" r="4.79" fill="rgb(123,123,123)"/>
<circle cx="270.3" cy="23.0" r="4.74" fill="rgb(123,123,123)"/>
<circle cx="268.9" cy="21.3" r="4.70" fill="rgb(122,122,122)"/>
<circle cx="267.3" cy="19.6" r="4.66" fill="rgb(123,123,123)"/>
<circle cx="265.8" cy="18.0" r="4.61" fill="rgb(124,124,124)"/>
<circle cx="264.1" cy="16.5" r="4.58" fill="rgb(126,126,126)"/>
<circle cx="262.4" cy="15.1" r="4.56" fill="rgb(128,128,128)"/>
<circle cx="260.4" cy="14.0" r="4.56" fill="rgb(132,132,132)"/>
<circle cx="258.4" cy="13.0" r="4.56" fill="rgb(139,139,139)"/>
<circle cx="256.2" cy="12.3" r="4.56" fill="rgb(147,147,147)"/>
<circle cx="254.0" cy="11.8" r="4.56" fill="rgb(156,156,156)"/>
<circle cx="251.8" cy="11.6" r="4.57" fill="rgb(165,165,165)"/>
<circle cx="249.6" cy="11.7" r="4.65" fill="rgb(176,176,176)"/>
<circle cx="247.3" cy="12.0" r="4.75" fill="rgb(187,187,187)"/>
<circle cx="245.1" cy="12.5" r="4.87" fill="rgb(195,195,195)"/>
<circle cx="243.0" cy="13.1" r="5.01" fill="rgb(202,202,202)"/>
<circle cx="240.9" cy="13.8" r="5.17" fill="rgb(208,208,208)"/>
<circle cx="238.8" cy="14.6" r="5.34" fill="rgb(212,212,212)"/>
<circle cx="236.7" cy="15.5" r="5.50" fill="rgb(216,216,216)"/>
<circle cx="234.6" cy="16.4" r="5.68" fill="rgb(220,220,220)"/>
<circle cx="232.6" cy="17.4" r="5.82" fill="rgb(222,222,222)"/>
<circle cx="230.6" cy="18.5" r="5.90" fill="rgb(222,222,222)"/>
<circle cx="228.7" cy="19.7" r="5.95" fill="rgb(222,222,222)"/>
<circle cx="226.9" cy="20.9" r="5.98" fill="rgb(221,221,221)"/>
<circle cx="225.1" cy="22.3" r="5.95" fill="rgb(214,214,214)"/>
<circle cx="223.4" cy="23.9" r="5.84" fill="rgb(194,194,194)"/>
<circle cx="221.9" cy="25.5" r="5.71" fill="rgb(172,172,172)"/>
<circle cx="220.6" cy="27.3" r="5.54" fill="rgb(152,152,152)"/>
<circle cx="219.4" cy="29.3" r="5.33" fill="rgb(131,131,131)"/>
<circle cx="218.4" cy="31.2" r="5.13" fill="rgb(115,115,115)"/>
<circle cx="217.4" cy="33.3" r="4.99" fill="rgb(105,105,105)"/>
<circle cx="216.5" cy="35.3" r="4.86" fill="rgb(98,98,98)"/>
<circle cx="215.6" cy="37.3" r="4.74" fill="rgb(90,90,90)"/>
<circle cx="214.8" cy="39.4" r="4.61" fill="rgb(80,80,80)"/>
<circle cx="213.9" cy="41.4" r="4.48" fill="rgb(69,69,69)"/>
<circle cx="213.1" cy="43.5" r="4.36" fill="rgb(57,57,57)"/>
<circle cx="212.3" cy="45.5" r="4.25" fill="rgb(47,47,47)"/>
<circle cx="211.5" cy="47.6" r="4.17" fill="rgb(38,38,38)"/>
<circle cx="210.8" cy="49.7" r="4.09" fill="rgb(31,31,31)"/>
<circle cx="210.1" cy="51.8" r="4.01" fill="rgb(24,24,24)"/>
<circle cx="209.5" cy="53.9" r="3.91" fill="rgb(17,17,17)"/>
<circle cx="209.0" cy="56.1" r="3.81" fill="rgb(11,11,11)"/>
<circle cx="208.6" cy="58.2" r="3.70" fill="rgb(6,6,6)"/>
<circle cx="243.0" cy="63.0" r="0.96" fill="rgb(14,14,14)"/>
<circle cx="245.2" cy="63.2" r="1.01" fill="rgb(17,17,17)"/>
<circle cx="247.4" cy="63.2" r="1.06" fill="rgb(20,20,20)"/>
<circle cx="249.6" cy="63.1" r="1.11" fill="rgb(23,23,23)"/>
<circle cx="251.7" cy="62.7" r="1.16" fill="rgb(27,27,27)"/>
<circle cx="253.9" cy="62.2" r="1.21" fill="rgb(31,31,31)"/>
<circle cx="256.0" cy="61.5" r="1.28" fill="rgb(35,35,35)"/>
<circle cx="258.0" cy="60.7" r="1.38" fill="rgb(42,42,42)"/>
<circle cx="260.0" cy="59.8" r="1.50" fill="rgb(50,50,50)"/>
<circle cx="261.9" cy="58.8" r="1.63" fill="rgb(59,59,59)"/>
<circle cx="263.8" cy="57.6" r="1.76" fill="rgb(70,70,70)"/>
<circle cx="265.6" cy="56.3" r="1.89" fill="rgb(82,82,82)"/>
<circle cx="267.2" cy="54.9" r="2.01" fill="rgb(94,94,94)"/>
<circle cx="268.8" cy="53.4" r="2.14" fill="rgb(105,105,105)"/>
<circle cx="270.2" cy="51.7" r="2.26" fill="rgb(115,115,115)"/>
<circle cx="271.5" cy="49.9" r="2.39" fill="rgb(125,125,125)"/>
<circle cx="272.5" cy="48.0" r="2.51" fill="rgb(134,134,134)"/>
<circle cx="273.4" cy="46.0" r="2.60" fill="rgb(141,141,141)"/>
<circle cx="274.1" cy="43.9" r="2.69" fill="rgb(147,147,147)"/>
<circle cx="274.6" cy="41.8" r="2.72" fill="rgb(149,149,149)"/>
<circle cx="275.0" cy="39.6" r="2.72" fill="rgb(149,149,149)"/>
<circle cx="275.1" cy="37.4" r="2.72" fill="rgb(149,149,149)"/>
<circle cx="275.0" cy="35.2" r="2.72" fill="rgb(149,149,149)"/>
<circle cx="274.7" cy="33.0" r="2.72" fill="rgb(148,148,148)"/>
<circle cx="274.2" cy="30.9" r="2.72" fill="rgb(146,146,146)"/>
<circle cx="273.4" cy="28.8" r="2.72" fill="rgb(145,145,145)"/>
<circle cx="272.4" cy="26.9" r="2.71" fill="rgb(144,144,144)"/>
<circle cx="271.2" cy="25.1" r="2.69" fill="rgb(143,143,143)"/>
<circle cx="269.8" cy="23.4" r="2.66" fill="rgb(142,142,142)"/>
<circle cx="268.4" cy="21.7" r="2.64" fill="rgb(142,142,142)"/>
<circle cx="266.9" cy="20.0" r="2.61" fill="rgb(143,143,143)"/>
<circle cx="265.4" cy="18.4" r="2.59" fill="rgb(144,144,144)"/>
<circle cx="263.8" cy="17.0" r="2.57" fill="rgb(147,147,147)"/>
<circle cx="262.0" cy="15.6" r="2.56" fill="rgb(149,149,149)"/>
<circle cx="260.2" cy="14.5" r="2.56" fill="rgb(154,154,154)"/>
<circle cx="258.2" cy="13.6" r="2.56" fill="rgb(162,162,162)"/>
<circle cx="256.0" cy="12.9" r="2.56" fill="rgb(171,171,171)"/>
<circle cx="253.9" cy="12.4" r="2.56" fill="rgb(181,181,181)"/>
<circle cx="251.7" cy="12.2" r="2.57" fill="rgb(191,191,191)"/>
<circle cx="249.5" cy="12.3" r="2.61" fill="rgb(204,204,204)"/>
<circle cx="247.3" cy="12.6" r="2.67" fill="rgb(217,217,217)"/>
<circle cx="245.2" cy="13.1" r="2.73" fill="rgb(227,227,227)"/>
<circle cx="243.1" cy="13.7" r="2.81" fill="rgb(235,235,235)"/>
<circle cx="241.0" cy="14.5" r="2.90" fill="rgb(241,241,241)"/>
<circle cx="239.0" cy="15.3" r="3.00" fill="rgb(245,245,245)"/>
<circle cx="237.0" cy="16.2" r="3.09" fill="rgb(245,245,245)"/>
<circle cx="235.0" cy="17.1" r="3.19" fill="rgb(245,245,245)"/>
<circle cx="233.0" cy="18.0" r="3.27" fill="rgb(245,245,245)"/>
<circle cx="231.1" cy="19.1" r="3.31" fill="rgb(245,245,245)"/>
<circle cx="229.2" cy="20.2" r="3.34" fill="rgb(245,245,245)"/>
<circle cx="227.4" cy="21.5" r="3.36" fill="rgb(245,245,245)"/>
<circle cx="225.7" cy="22.8" r="3.34" fill="rgb(245,245,245)"/>
<circle cx="224.1" cy="24.3" r="3.28" fill="rgb(226,226,226)"/>
<circle cx="222.6" cy="25.9" r="3.20" fill="rgb(200,200,200)"/>
<circle cx="221.3" cy="27.7" r="3.11" fill="rgb(177,177,177)"/>
<circle cx="220.1" cy="29.5" r="2.99" fill="rgb(152,152,152)"/>
<circle cx="219.0" cy="31.4" r="2.88" fill="rgb(133,133,133)"/>
<circle cx="218.1" cy="33.4" r="2.80" fill="rgb(122,122,122)"/>
<circle cx="217.1" cy="35.4" r="2.73" fill="rgb(114,114,114)"/>
<circle cx="216.3" cy="37.4" r="2.66" fill="rgb(105,105,105)"/>
<circle cx="215.4" cy="39.4" r="2.59" fill="rgb(94,94,94)"/>
<circle cx="214.5" cy="41.4" r="2.52" fill="rgb(80,80,80)"/>
<circle cx="213.6" cy="43.4" r="2.45" fill="rgb(66,66,66)"/>
<circle cx="212.8" cy="45.4" r="2.39" fill="rgb(55,55,55)"/>
<circle cx="212.0" cy="47.5" r="2.34" fill="rgb(45,45,45)"/>
<circle cx="211.3" cy="49.6" r="2.30" fill="rgb(36,36,36)"/>
<circle cx="210.6" cy="51.6" r="2.25" fill="rgb(27,27,27)"/>
<circle cx="210.0" cy="53.7" r="2.20" fill="rgb(20,20,20)"/>
<circle cx="209.5" cy="55.9" r="2.14" fill="rgb(13,13,13)"/>
<circle cx="209.0" cy="58.0" r="2.08" fill="rgb(7,7,7)"/>
</g></g>

<g clip-path="url(#clipfc)"><g filter="url(#fc)" class="h">
<rect x="13.700000000000003" y="100.4" width="161.10000000000002" height="141.1" fill="#000"/>
<circle cx="93.4" cy="174.2" r="2.16" fill="rgb(12,12,12)"/>
<circle cx="94.3" cy="176.5" r="2.65" fill="rgb(11,11,11)"/>
<circle cx="95.9" cy="178.3" r="3.11" fill="rgb(10,10,10)"/>
<circle cx="98.0" cy="179.5" r="3.54" fill="rgb(9,9,9)"/>
<circle cx="100.3" cy="180.3" r="3.96" fill="rgb(8,8,8)"/>
<circle cx="102.7" cy="180.6" r="4.40" fill="rgb(8,8,8)"/>
<circle cx="105.1" cy="180.6" r="4.87" fill="rgb(8,8,8)"/>
<circle cx="107.5" cy="180.2" r="5.45" fill="rgb(8,8,8)"/>
<circle cx="109.8" cy="179.5" r="6.19" fill="rgb(8,8,8)"/>
<circle cx="112.0" cy="178.5" r="7.01" fill="rgb(8,8,8)"/>
<circle cx="114.0" cy="177.2" r="7.89" fill="rgb(8,8,8)"/>
<circle cx="115.9" cy="175.7" r="8.84" fill="rgb(8,8,8)"/>
<circle cx="117.6" cy="174.1" r="9.79" fill="rgb(8,8,8)"/>
<circle cx="119.3" cy="172.3" r="10.76" fill="rgb(9,9,9)"/>
<circle cx="120.8" cy="170.5" r="11.73" fill="rgb(9,9,9)"/>
<circle cx="122.3" cy="168.6" r="12.55" fill="rgb(9,9,9)"/>
<circle cx="123.8" cy="166.7" r="13.21" fill="rgb(9,9,9)"/>
<circle cx="125.1" cy="164.7" r="13.82" fill="rgb(9,9,9)"/>
<circle cx="126.2" cy="162.6" r="14.46" fill="rgb(9,9,9)"/>
<circle cx="127.0" cy="160.3" r="15.14" fill="rgb(9,9,9)"/>
<circle cx="127.6" cy="158.0" r="15.63" fill="rgb(8,8,8)"/>
<circle cx="127.8" cy="155.6" r="15.89" fill="rgb(8,8,8)"/>
<circle cx="127.7" cy="153.2" r="16.10" fill="rgb(7,7,7)"/>
<circle cx="127.4" cy="150.8" r="16.20" fill="rgb(7,7,7)"/>
<circle cx="126.9" cy="148.4" r="16.14" fill="rgb(6,6,6)"/>
<circle cx="126.2" cy="146.1" r="15.93" fill="rgb(6,6,6)"/>
<circle cx="125.2" cy="143.9" r="15.67" fill="rgb(6,6,6)"/>
<circle cx="124.0" cy="141.9" r="15.34" fill="rgb(6,6,6)"/>
<circle cx="122.5" cy="140.0" r="14.93" fill="rgb(5,5,5)"/>
<circle cx="120.8" cy="138.2" r="14.53" fill="rgb(5,5,5)"/>
<circle cx="119.0" cy="136.6" r="14.11" fill="rgb(5,5,5)"/>
<circle cx="117.1" cy="135.1" r="13.72" fill="rgb(5,5,5)"/>
<circle cx="115.2" cy="133.8" r="13.40" fill="rgb(5,5,5)"/>
<circle cx="113.1" cy="132.6" r="13.12" fill="rgb(5,5,5)"/>
<circle cx="111.0" cy="131.5" r="12.96" fill="rgb(4,4,4)"/>
<circle cx="108.8" cy="130.5" r="12.96" fill="rgb(4,4,4)"/>
<circle cx="106.5" cy="129.7" r="12.96" fill="rgb(4,4,4)"/>
<circle cx="104.2" cy="129.1" r="12.96" fill="rgb(4,4,4)"/>
<circle cx="101.8" cy="128.7" r="12.96" fill="rgb(5,5,5)"/>
<circle cx="99.4" cy="128.5" r="12.96" fill="rgb(6,6,6)"/>
<circle cx="97.0" cy="128.4" r="12.96" fill="rgb(6,6,6)"/>
<circle cx="94.6" cy="128.6" r="12.96" fill="rgb(7,7,7)"/>
<circle cx="92.3" cy="129.0" r="12.85" fill="rgb(9,9,9)"/>
<circle cx="89.9" cy="129.6" r="12.60" fill="rgb(10,10,10)"/>
<circle cx="87.6" cy="130.3" r="12.43" fill="rgb(11,11,11)"/>
<circle cx="85.4" cy="131.2" r="12.42" fill="rgb(11,11,11)"/>
<circle cx="83.2" cy="132.1" r="12.42" fill="rgb(12,12,12)"/>
<circle cx="81.0" cy="133.1" r="12.42" fill="rgb(12,12,12)"/>
<circle cx="78.9" cy="134.2" r="12.42" fill="rgb(12,12,12)"/>
<circle cx="76.8" cy="135.4" r="12.48" fill="rgb(12,12,12)"/>
<circle cx="74.7" cy="136.7" r="12.63" fill="rgb(12,12,12)"/>
<circle cx="72.8" cy="138.0" r="12.82" fill="rgb(11,11,11)"/>
<circle cx="70.8" cy="139.5" r="12.98" fill="rgb(10,10,10)"/>
<circle cx="69.0" cy="141.0" r="13.13" fill="rgb(10,10,10)"/>
<circle cx="67.2" cy="142.6" r="13.29" fill="rgb(9,9,9)"/>
<circle cx="65.5" cy="144.3" r="13.46" fill="rgb(8,8,8)"/>
<circle cx="64.0" cy="146.1" r="13.68" fill="rgb(7,7,7)"/>
<circle cx="62.5" cy="148.0" r="13.94" fill="rgb(6,6,6)"/>
<circle cx="61.1" cy="150.0" r="14.04" fill="rgb(5,5,5)"/>
<circle cx="59.8" cy="152.0" r="14.04" fill="rgb(5,5,5)"/>
<circle cx="58.6" cy="154.1" r="14.04" fill="rgb(4,4,4)"/>
<circle cx="57.5" cy="156.2" r="14.04" fill="rgb(4,4,4)"/>
<circle cx="56.5" cy="158.4" r="13.97" fill="rgb(4,4,4)"/>
<circle cx="55.5" cy="160.6" r="13.76" fill="rgb(3,3,3)"/>
<circle cx="54.7" cy="162.8" r="13.52" fill="rgb(3,3,3)"/>
<circle cx="53.9" cy="165.1" r="13.33" fill="rgb(2,2,2)"/>
<circle cx="53.1" cy="167.4" r="13.12" fill="rgb(2,2,2)"/>
<circle cx="93.4" cy="174.2" r="1.81" fill="rgb(28,28,28)"/>
<circle cx="94.3" cy="176.5" r="2.22" fill="rgb(25,25,25)"/>
<circle cx="95.9" cy="178.3" r="2.61" fill="rgb(22,22,22)"/>
<circle cx="98.0" cy="179.5" r="2.97" fill="rgb(21,21,21)"/>
<circle cx="100.3" cy="180.3" r="3.33" fill="rgb(19,19,19)"/>
<circle cx="102.7" cy="180.6" r="3.70" fill="rgb(19,19,19)"/>
<circle cx="105.1" cy="180.6" r="4.09" fill="rgb(18,18,18)"/>
<circle cx="107.5" cy="180.2" r="4.58" fill="rgb(18,18,18)"/>
<circle cx="109.8" cy="179.5" r="5.20" fill="rgb(18,18,18)"/>
<circle cx="112.0" cy="178.5" r="5.89" fill="rgb(18,18,18)"/>
<circle cx="114.0" cy="177.2" r="6.63" fill="rgb(18,18,18)"/>
<circle cx="115.9" cy="175.7" r="7.43" fill="rgb(19,19,19)"/>
<circle cx="117.6" cy="174.1" r="8.22" fill="rgb(19,19,19)"/>
<circle cx="119.3" cy="172.3" r="9.04" fill="rgb(20,20,20)"/>
<circle cx="120.8" cy="170.5" r="9.85" fill="rgb(21,21,21)"/>
<circle cx="122.3" cy="168.6" r="10.54" fill="rgb(21,21,21)"/>
<circle cx="123.8" cy="166.7" r="11.10" fill="rgb(21,21,21)"/>
<circle cx="125.1" cy="164.7" r="11.61" fill="rgb(21,21,21)"/>
<circle cx="126.2" cy="162.6" r="12.15" fill="rgb(21,21,21)"/>
<circle cx="127.0" cy="160.3" r="12.72" fill="rgb(20,20,20)"/>
<circle cx="127.6" cy="158.0" r="13.13" fill="rgb(19,19,19)"/>
<circle cx="127.8" cy="155.6" r="13.35" fill="rgb(18,18,18)"/>
<circle cx="127.7" cy="153.2" r="13.52" fill="rgb(17,17,17)"/>
<circle cx="127.4" cy="150.8" r="13.60" fill="rgb(16,16,16)"/>
<circle cx="126.9" cy="148.4" r="13.56" fill="rgb(15,15,15)"/>
<circle cx="126.2" cy="146.1" r="13.38" fill="rgb(14,14,14)"/>
<circle cx="125.2" cy="143.9" r="13.16" fill="rgb(14,14,14)"/>
<circle cx="124.0" cy="141.9" r="12.89" fill="rgb(13,13,13)"/>
<circle cx="122.5" cy="140.0" r="12.54" fill="rgb(13,13,13)"/>
<circle cx="120.8" cy="138.2" r="12.20" fill="rgb(12,12,12)"/>
<circle cx="119.0" cy="136.6" r="11.85" fill="rgb(12,12,12)"/>
<circle cx="117.1" cy="135.1" r="11.52" fill="rgb(11,11,11)"/>
<circle cx="115.2" cy="133.8" r="11.26" fill="rgb(11,11,11)"/>
<circle cx="113.1" cy="132.6" r="11.02" fill="rgb(11,11,11)"/>
<circle cx="111.0" cy="131.5" r="10.89" fill="rgb(10,10,10)"/>
<circle cx="108.8" cy="130.5" r="10.89" fill="rgb(10,10,10)"/>
<circle cx="106.5" cy="129.7" r="10.89" fill="rgb(10,10,10)"/>
<circle cx="104.2" cy="129.1" r="10.89" fill="rgb(10,10,10)"/>
<circle cx="101.8" cy="128.7" r="10.89" fill="rgb(12,12,12)"/>
<circle cx="99.4" cy="128.5" r="10.89" fill="rgb(13,13,13)"/>
<circle cx="97.0" cy="128.4" r="10.89" fill="rgb(15,15,15)"/>
<circle cx="94.6" cy="128.6" r="10.89" fill="rgb(17,17,17)"/>
<circle cx="92.3" cy="129.0" r="10.79" fill="rgb(20,20,20)"/>
<circle cx="89.9" cy="129.6" r="10.58" fill="rgb(23,23,23)"/>
<circle cx="87.6" cy="130.3" r="10.44" fill="rgb(25,25,25)"/>
<circle cx="85.4" cy="131.2" r="10.43" fill="rgb(27,27,27)"/>
<circle cx="83.2" cy="132.1" r="10.43" fill="rgb(28,28,28)"/>
<circle cx="81.0" cy="133.1" r="10.43" fill="rgb(28,28,28)"/>
<circle cx="78.9" cy="134.2" r="10.43" fill="rgb(29,29,29)"/>
<circle cx="76.8" cy="135.4" r="10.49" fill="rgb(28,28,28)"/>
<circle cx="74.7" cy="136.7" r="10.61" fill="rgb(27,27,27)"/>
<circle cx="72.8" cy="138.0" r="10.77" fill="rgb(26,26,26)"/>
<circle cx="70.8" cy="139.5" r="10.91" fill="rgb(24,24,24)"/>
<circle cx="69.0" cy="141.0" r="11.03" fill="rgb(22,22,22)"/>
<circle cx="67.2" cy="142.6" r="11.17" fill="rgb(20,20,20)"/>
<circle cx="65.5" cy="144.3" r="11.31" fill="rgb(18,18,18)"/>
<circle cx="64.0" cy="146.1" r="11.49" fill="rgb(16,16,16)"/>
<circle cx="62.5" cy="148.0" r="11.71" fill="rgb(14,14,14)"/>
<circle cx="61.1" cy="150.0" r="11.79" fill="rgb(13,13,13)"/>
<circle cx="59.8" cy="152.0" r="11.79" fill="rgb(11,11,11)"/>
<circle cx="58.6" cy="154.1" r="11.79" fill="rgb(10,10,10)"/>
<circle cx="57.5" cy="156.2" r="11.79" fill="rgb(9,9,9)"/>
<circle cx="56.5" cy="158.4" r="11.73" fill="rgb(8,8,8)"/>
<circle cx="55.5" cy="160.6" r="11.56" fill="rgb(7,7,7)"/>
<circle cx="54.7" cy="162.8" r="11.36" fill="rgb(6,6,6)"/>
<circle cx="53.9" cy="165.1" r="11.20" fill="rgb(5,5,5)"/>
<circle cx="53.1" cy="167.4" r="11.02" fill="rgb(4,4,4)"/>
<circle cx="52.5" cy="169.7" r="10.78" fill="rgb(3,3,3)"/>
<circle cx="52.1" cy="172.0" r="10.42" fill="rgb(2,2,2)"/>
<circle cx="93.4" cy="174.2" r="1.54" fill="rgb(47,47,47)"/>
<circle cx="94.3" cy="176.5" r="1.89" fill="rgb(42,42,42)"/>
<circle cx="95.9" cy="178.3" r="2.22" fill="rgb(38,38,38)"/>
<circle cx="98.0" cy="179.5" r="2.53" fill="rgb(36,36,36)"/>
<circle cx="100.3" cy="180.3" r="2.83" fill="rgb(33,33,33)"/>
<circle cx="102.7" cy="180.6" r="3.15" fill="rgb(32,32,32)"/>
<circle cx="105.1" cy="180.6" r="3.48" fill="rgb(31,31,31)"/>
<circle cx="107.5" cy="180.2" r="3.89" fill="rgb(30,30,30)"/>
<circle cx="109.8" cy="179.5" r="4.42" fill="rgb(30,30,30)"/>
<circle cx="112.0" cy="178.5" r="5.01" fill="rgb(30,30,30)"/>
<circle cx="114.0" cy="177.2" r="5.64" fill="rgb(31,31,31)"/>
<circle cx="115.9" cy="175.7" r="6.32" fill="rgb(32,32,32)"/>
<circle cx="117.6" cy="174.1" r="7.00" fill="rgb(33,33,33)"/>
<circle cx="119.3" cy="172.3" r="7.70" fill="rgb(34,34,34)"/>
<circle cx="120.8" cy="170.5" r="8.38" fill="rgb(36,36,36)"/>
<circle cx="122.3" cy="168.6" r="8.97" fill="rgb(37,37,37)"/>
<circle cx="123.8" cy="166.7" r="9.45" fill="rgb(37,37,37)"/>
<circle cx="125.1" cy="164.7" r="9.88" fill="rgb(37,37,37)"/>
<circle cx="126.2" cy="162.6" r="10.34" fill="rgb(36,36,36)"/>
<circle cx="127.0" cy="160.3" r="10.83" fill="rgb(35,35,35)"/>
<circle cx="127.6" cy="158.0" r="11.18" fill="rgb(33,33,33)"/>
<circle cx="127.8" cy="155.6" r="11.36" fill="rgb(31,31,31)"/>
<circle cx="127.7" cy="153.2" r="11.51" fill="rgb(29,29,29)"/>
<circle cx="127.4" cy="150.8" r="11.58" fill="rgb(27,27,27)"/>
<circle cx="126.9" cy="148.4" r="11.54" fill="rgb(26,26,26)"/>
<circle cx="126.2" cy="146.1" r="11.39" fill="rgb(25,25,25)"/>
<circle cx="125.2" cy="143.9" r="11.20" fill="rgb(23,23,23)"/>
<circle cx="124.0" cy="141.9" r="10.97" fill="rgb(22,22,22)"/>
<circle cx="122.5" cy="140.0" r="10.68" fill="rgb(21,21,21)"/>
<circle cx="120.8" cy="138.2" r="10.39" fill="rgb(21,21,21)"/>
<circle cx="119.0" cy="136.6" r="10.09" fill="rgb(20,20,20)"/>
<circle cx="117.1" cy="135.1" r="9.81" fill="rgb(19,19,19)"/>
<circle cx="115.2" cy="133.8" r="9.58" fill="rgb(19,19,19)"/>
<circle cx="113.1" cy="132.6" r="9.38" fill="rgb(18,18,18)"/>
<circle cx="111.0" cy="131.5" r="9.27" fill="rgb(18,18,18)"/>
<circle cx="108.8" cy="130.5" r="9.27" fill="rgb(18,18,18)"/>
<circle cx="106.5" cy="129.7" r="9.27" fill="rgb(18,18,18)"/>
<circle cx="104.2" cy="129.1" r="9.27" fill="rgb(18,18,18)"/>
<circle cx="101.8" cy="128.7" r="9.27" fill="rgb(20,20,20)"/>
<circle cx="99.4" cy="128.5" r="9.27" fill="rgb(22,22,22)"/>
<circle cx="97.0" cy="128.4" r="9.27" fill="rgb(25,25,25)"/>
<circle cx="94.6" cy="128.6" r="9.27" fill="rgb(29,29,29)"/>
<circle cx="92.3" cy="129.0" r="9.19" fill="rgb(34,34,34)"/>
<circle cx="89.9" cy="129.6" r="9.01" fill="rgb(40,40,40)"/>
<circle cx="87.6" cy="130.3" r="8.88" fill="rgb(44,44,44)"/>
<circle cx="85.4" cy="131.2" r="8.88" fill="rgb(46,46,46)"/>
<circle cx="83.2" cy="132.1" r="8.88" fill="rgb(48,48,48)"/>
<circle cx="81.0" cy="133.1" r="8.88" fill="rgb(49,49,49)"/>
<circle cx="78.9" cy="134.2" r="8.88" fill="rgb(49,49,49)"/>
<circle cx="76.8" cy="135.4" r="8.93" fill="rgb(48,48,48)"/>
<circle cx="74.7" cy="136.7" r="9.03" fill="rgb(47,47,47)"/>
<circle cx="72.8" cy="138.0" r="9.16" fill="rgb(44,44,44)"/>
<circle cx="70.8" cy="139.5" r="9.28" fill="rgb(42,42,42)"/>
<circle cx="69.0" cy="141.0" r="9.39" fill="rgb(38,38,38)"/>
<circle cx="67.2" cy="142.6" r="9.50" fill="rgb(34,34,34)"/>
<circle cx="65.5" cy="144.3" r="9.63" fill="rgb(30,30,30)"/>
<circle cx="64.0" cy="146.1" r="9.78" fill="rgb(27,27,27)"/>
<circle cx="62.5" cy="148.0" r="9.97" fill="rgb(24,24,24)"/>
<circle cx="61.1" cy="150.0" r="10.04" fill="rgb(22,22,22)"/>
<circle cx="59.8" cy="152.0" r="10.04" fill="rgb(20,20,20)"/>
<circle cx="58.6" cy="154.1" r="10.04" fill="rgb(18,18,18)"/>
<circle cx="57.5" cy="156.2" r="10.04" fill="rgb(16,16,16)"/>
<circle cx="56.5" cy="158.4" r="9.99" fill="rgb(14,14,14)"/>
<circle cx="55.5" cy="160.6" r="9.84" fill="rgb(13,13,13)"/>
<circle cx="54.7" cy="162.8" r="9.67" fill="rgb(11,11,11)"/>
<circle cx="53.9" cy="165.1" r="9.53" fill="rgb(9,9,9)"/>
<circle cx="53.1" cy="167.4" r="9.38" fill="rgb(7,7,7)"/>
<circle cx="52.5" cy="169.7" r="9.18" fill="rgb(6,6,6)"/>
<circle cx="52.1" cy="172.0" r="8.87" fill="rgb(4,4,4)"/>
<circle cx="51.9" cy="174.4" r="8.49" fill="rgb(3,3,3)"/>
<circle cx="93.4" cy="174.2" r="1.31" fill="rgb(71,71,71)"/>
<circle cx="94.3" cy="176.5" r="1.60" fill="rgb(63,63,63)"/>
<circle cx="95.9" cy="178.3" r="1.88" fill="rgb(58,58,58)"/>
<circle cx="98.0" cy="179.5" r="2.14" fill="rgb(53,53,53)"/>
<circle cx="100.3" cy="180.3" r="2.40" fill="rgb(50,50,50)"/>
<circle cx="102.7" cy="180.6" r="2.66" fill="rgb(48,48,48)"/>
<circle cx="105.1" cy="180.6" r="2.95" fill="rgb(46,46,46)"/>
<circle cx="107.5" cy="180.2" r="3.30" fill="rgb(45,45,45)"/>
<circle cx="109.8" cy="179.5" r="3.74" fill="rgb(45,45,45)"/>
<circle cx="112.0" cy="178.5" r="4.24" fill="rgb(45,45,45)"/>
<circle cx="114.0" cy="177.2" r="4.77" fill="rgb(46,46,46)"/>
<circle cx="115.9" cy="175.7" r="5.35" fill="rgb(48,48,48)"/>
<circle cx="117.6" cy="174.1" r="5.92" fill="rgb(49,49,49)"/>
<circle cx="119.3" cy="172.3" r="6.51" fill="rgb(52,52,52)"/>
<circle cx="120.8" cy="170.5" r="7.09" fill="rgb(54,54,54)"/>
<circle cx="122.3" cy="168.6" r="7.59" fill="rgb(55,55,55)"/>
<circle cx="123.8" cy="166.7" r="7.99" fill="rgb(55,55,55)"/>
<circle cx="125.1" cy="164.7" r="8.36" fill="rgb(55,55,55)"/>
<circle cx="126.2" cy="162.6" r="8.75" fill="rgb(54,54,54)"/>
<circle cx="127.0" cy="160.3" r="9.16" fill="rgb(52,52,52)"/>
<circle cx="127.6" cy="158.0" r="9.46" fill="rgb(49,49,49)"/>
<circle cx="127.8" cy="155.6" r="9.62" fill="rgb(47,47,47)"/>
<circle cx="127.7" cy="153.2" r="9.74" fill="rgb(44,44,44)"/>
<circle cx="127.4" cy="150.8" r="9.80" fill="rgb(41,41,41)"/>
<circle cx="126.9" cy="148.4" r="9.76" fill="rgb(39,39,39)"/>
<circle cx="126.2" cy="146.1" r="9.64" fill="rgb(37,37,37)"/>
<circle cx="125.2" cy="143.9" r="9.48" fill="rgb(35,35,35)"/>
<circle cx="124.0" cy="141.9" r="9.28" fill="rgb(34,34,34)"/>
<circle cx="122.5" cy="140.0" r="9.03" fill="rgb(32,32,32)"/>
<circle cx="120.8" cy="138.2" r="8.79" fill="rgb(31,31,31)"/>
<circle cx="119.0" cy="136.6" r="8.54" fill="rgb(30,30,30)"/>
<circle cx="117.1" cy="135.1" r="8.30" fill="rgb(29,29,29)"/>
<circle cx="115.2" cy="133.8" r="8.11" fill="rgb(28,28,28)"/>
<circle cx="113.1" cy="132.6" r="7.94" fill="rgb(27,27,27)"/>
<circle cx="111.0" cy="131.5" r="7.84" fill="rgb(26,26,26)"/>
<circle cx="108.8" cy="130.5" r="7.84" fill="rgb(26,26,26)"/>
<circle cx="106.5" cy="129.7" r="7.84" fill="rgb(26,26,26)"/>
<circle cx="104.2" cy="129.1" r="7.84" fill="rgb(27,27,27)"/>
<circle cx="101.8" cy="128.7" r="7.84" fill="rgb(30,30,30)"/>
<circle cx="99.4" cy="128.5" r="7.84" fill="rgb(33,33,33)"/>
<circle cx="97.0" cy="128.4" r="7.84" fill="rgb(38,38,38)"/>
<circle cx="94.6" cy="128.6" r="7.84" fill="rgb(44,44,44)"/>
<circle cx="92.3" cy="129.0" r="7.77" fill="rgb(51,51,51)"/>
<circle cx="89.9" cy="129.6" r="7.62" fill="rgb(59,59,59)"/>
<circle cx="87.6" cy="130.3" r="7.52" fill="rgb(66,66,66)"/>
<circle cx="85.4" cy="131.2" r="7.51" fill="rgb(69,69,69)"/>
<circle cx="83.2" cy="132.1" r="7.51" fill="rgb(71,71,71)"/>
<circle cx="81.0" cy="133.1" r="7.51" fill="rgb(73,73,73)"/>
<circle cx="78.9" cy="134.2" r="7.51" fill="rgb(74,74,74)"/>
<circle cx="76.8" cy="135.4" r="7.55" fill="rgb(73,73,73)"/>
<circle cx="74.7" cy="136.7" r="7.64" fill="rgb(70,70,70)"/>
<circle cx="72.8" cy="138.0" r="7.75" fill="rgb(67,67,67)"/>
<circle cx="70.8" cy="139.5" r="7.85" fill="rgb(63,63,63)"/>
<circle cx="69.0" cy="141.0" r="7.95" fill="rgb(58,58,58)"/>
<circle cx="67.2" cy="142.6" r="8.04" fill="rgb(51,51,51)"/>
<circle cx="65.5" cy="144.3" r="8.14" fill="rgb(45,45,45)"/>
<circle cx="64.0" cy="146.1" r="8.28" fill="rgb(41,41,41)"/>
<circle cx="62.5" cy="148.0" r="8.43" fill="rgb(36,36,36)"/>
<circle cx="61.1" cy="150.0" r="8.49" fill="rgb(33,33,33)"/>
<circle cx="59.8" cy="152.0" r="8.49" fill="rgb(30,30,30)"/>
<circle cx="58.6" cy="154.1" r="8.49" fill="rgb(27,27,27)"/>
<circle cx="57.5" cy="156.2" r="8.49" fill="rgb(24,24,24)"/>
<circle cx="56.5" cy="158.4" r="8.45" fill="rgb(21,21,21)"/>
<circle cx="55.5" cy="160.6" r="8.33" fill="rgb(19,19,19)"/>
<circle cx="54.7" cy="162.8" r="8.18" fill="rgb(16,16,16)"/>
<circle cx="53.9" cy="165.1" r="8.07" fill="rgb(14,14,14)"/>
<circle cx="53.1" cy="167.4" r="7.94" fill="rgb(11,11,11)"/>
<circle cx="52.5" cy="169.7" r="7.76" fill="rgb(8,8,8)"/>
<circle cx="52.1" cy="172.0" r="7.51" fill="rgb(6,6,6)"/>
<circle cx="51.9" cy="174.4" r="7.19" fill="rgb(4,4,4)"/>
<circle cx="93.4" cy="174.2" r="1.08" fill="rgb(98,98,98)"/>
<circle cx="94.3" cy="176.5" r="1.32" fill="rgb(88,88,88)"/>
<circle cx="95.9" cy="178.3" r="1.56" fill="rgb(80,80,80)"/>
<circle cx="98.0" cy="179.5" r="1.77" fill="rgb(74,74,74)"/>
<circle cx="100.3" cy="180.3" r="1.98" fill="rgb(69,69,69)"/>
<circle cx="102.7" cy="180.6" r="2.20" fill="rgb(66,66,66)"/>
<circle cx="105.1" cy="180.6" r="2.43" fill="rgb(64,64,64)"/>
<circle cx="107.5" cy="180.2" r="2.72" fill="rgb(63,63,63)"/>
<circle cx="109.8" cy="179.5" r="3.09" fill="rgb(63,63,63)"/>
<circle cx="112.0" cy="178.5" r="3.50" fill="rgb(63,63,63)"/>
<circle cx="114.0" cy="177.2" r="3.95" fill="rgb(64,64,64)"/>
<circle cx="115.9" cy="175.7" r="4.42" fill="rgb(66,66,66)"/>
<circle cx="117.6" cy="174.1" r="4.89" fill="rgb(68,68,68)"/>
<circle cx="119.3" cy="172.3" r="5.38" fill="rgb(72,72,72)"/>
<circle cx="120.8" cy="170.5" r="5.86" fill="rgb(75,75,75)"/>
<circle cx="122.3" cy="168.6" r="6.27" fill="rgb(76,76,76)"/>
<circle cx="123.8" cy="166.7" r="6.61" fill="rgb(76,76,76)"/>
<circle cx="125.1" cy="164.7" r="6.91" fill="rgb(76,76,76)"/>
<circle cx="126.2" cy="162.6" r="7.23" fill="rgb(75,75,75)"/>
<circle cx="127.0" cy="160.3" r="7.57" fill="rgb(72,72,72)"/>
<circle cx="127.6" cy="158.0" r="7.82" fill="rgb(69,69,69)"/>
<circle cx="127.8" cy="155.6" r="7.95" fill="rgb(65,65,65)"/>
<circle cx="127.7" cy="153.2" r="8.05" fill="rgb(61,61,61)"/>
<circle cx="127.4" cy="150.8" r="8.10" fill="rgb(57,57,57)"/>
<circle cx="126.9" cy="148.4" r="8.07" fill="rgb(54,54,54)"/>
<circle cx="126.2" cy="146.1" r="7.97" fill="rgb(51,51,51)"/>
<circle cx="125.2" cy="143.9" r="7.83" fill="rgb(49,49,49)"/>
<circle cx="124.0" cy="141.9" r="7.67" fill="rgb(47,47,47)"/>
<circle cx="122.5" cy="140.0" r="7.47" fill="rgb(45,45,45)"/>
<circle cx="120.8" cy="138.2" r="7.26" fill="rgb(43,43,43)"/>
<circle cx="119.0" cy="136.6" r="7.06" fill="rgb(42,42,42)"/>
<circle cx="117.1" cy="135.1" r="6.86" fill="rgb(40,40,40)"/>
<circle cx="115.2" cy="133.8" r="6.70" fill="rgb(39,39,39)"/>
<circle cx="113.1" cy="132.6" r="6.56" fill="rgb(38,38,38)"/>
<circle cx="111.0" cy="131.5" r="6.48" fill="rgb(37,37,37)"/>
<circle cx="108.8" cy="130.5" r="6.48" fill="rgb(37,37,37)"/>
<circle cx="106.5" cy="129.7" r="6.48" fill="rgb(37,37,37)"/>
<circle cx="104.2" cy="129.1" r="6.48" fill="rgb(37,37,37)"/>
<circle cx="101.8" cy="128.7" r="6.48" fill="rgb(41,41,41)"/>
<circle cx="99.4" cy="128.5" r="6.48" fill="rgb(46,46,46)"/>
<circle cx="97.0" cy="128.4" r="6.48" fill="rgb(53,53,53)"/>
<circle cx="94.6" cy="128.6" r="6.48" fill="rgb(61,61,61)"/>
<circle cx="92.3" cy="129.0" r="6.42" fill="rgb(71,71,71)"/>
<circle cx="89.9" cy="129.6" r="6.30" fill="rgb(82,82,82)"/>
<circle cx="87.6" cy="130.3" r="6.21" fill="rgb(91,91,91)"/>
<circle cx="85.4" cy="131.2" r="6.21" fill="rgb(95,95,95)"/>
<circle cx="83.2" cy="132.1" r="6.21" fill="rgb(99,99,99)"/>
<circle cx="81.0" cy="133.1" r="6.21" fill="rgb(102,102,102)"/>
<circle cx="78.9" cy="134.2" r="6.21" fill="rgb(102,102,102)"/>
<circle cx="76.8" cy="135.4" r="6.24" fill="rgb(101,101,101)"/>
<circle cx="74.7" cy="136.7" r="6.32" fill="rgb(97,97,97)"/>
<circle cx="72.8" cy="138.0" r="6.41" fill="rgb(92,92,92)"/>
<circle cx="70.8" cy="139.5" r="6.49" fill="rgb(87,87,87)"/>
<circle cx="69.0" cy="141.0" r="6.57" fill="rgb(80,80,80)"/>
<circle cx="67.2" cy="142.6" r="6.65" fill="rgb(71,71,71)"/>
<circle cx="65.5" cy="144.3" r="6.73" fill="rgb(63,63,63)"/>
<circle cx="64.0" cy="146.1" r="6.84" fill="rgb(57,57,57)"/>
<circle cx="62.5" cy="148.0" r="6.97" fill="rgb(51,51,51)"/>
<circle cx="61.1" cy="150.0" r="7.02" fill="rgb(45,45,45)"/>
<circle cx="59.8" cy="152.0" r="7.02" fill="rgb(41,41,41)"/>
<circle cx="58.6" cy="154.1" r="7.02" fill="rgb(37,37,37)"/>
<circle cx="57.5" cy="156.2" r="7.02" fill="rgb(33,33,33)"/>
<circle cx="56.5" cy="158.4" r="6.98" fill="rgb(30,30,30)"/>
<circle cx="55.5" cy="160.6" r="6.88" fill="rgb(26,26,26)"/>
<circle cx="54.7" cy="162.8" r="6.76" fill="rgb(23,23,23)"/>
<circle cx="53.9" cy="165.1" r="6.67" fill="rgb(19,19,19)"/>
<circle cx="53.1" cy="167.4" r="6.56" fill="rgb(15,15,15)"/>
<circle cx="52.5" cy="169.7" r="6.42" fill="rgb(12,12,12)"/>
<circle cx="52.1" cy="172.0" r="6.20" fill="rgb(8,8,8)"/>
<circle cx="51.9" cy="174.4" r="5.94" fill="rgb(5,5,5)"/>
<circle cx="93.4" cy="174.2" r="0.85" fill="rgb(128,128,128)"/>
<circle cx="94.3" cy="176.5" r="1.05" fill="rgb(114,114,114)"/>
<circle cx="95.9" cy="178.3" r="1.23" fill="rgb(104,104,104)"/>
<circle cx="98.0" cy="179.5" r="1.40" fill="rgb(96,96,96)"/>
<circle cx="100.3" cy="180.3" r="1.56" fill="rgb(90,90,90)"/>
<circle cx="102.7" cy="180.6" r="1.74" fill="rgb(86,86,86)"/>
<circle cx="105.1" cy="180.6" r="1.92" fill="rgb(83,83,83)"/>
<circle cx="107.5" cy="180.2" r="2.15" fill="rgb(82,82,82)"/>
<circle cx="109.8" cy="179.5" r="2.44" fill="rgb(82,82,82)"/>
<circle cx="112.0" cy="178.5" r="2.77" fill="rgb(82,82,82)"/>
<circle cx="114.0" cy="177.2" r="3.12" fill="rgb(83,83,83)"/>
<circle cx="115.9" cy="175.7" r="3.49" fill="rgb(86,86,86)"/>
<circle cx="117.6" cy="174.1" r="3.87" fill="rgb(89,89,89)"/>
<circle cx="119.3" cy="172.3" r="4.25" fill="rgb(93,93,93)"/>
<circle cx="120.8" cy="170.5" r="4.63" fill="rgb(97,97,97)"/>
<circle cx="122.3" cy="168.6" r="4.96" fill="rgb(99,99,99)"/>
<circle cx="123.8" cy="166.7" r="5.22" fill="rgb(99,99,99)"/>
<circle cx="125.1" cy="164.7" r="5.46" fill="rgb(99,99,99)"/>
<circle cx="126.2" cy="162.6" r="5.71" fill="rgb(98,98,98)"/>
<circle cx="127.0" cy="160.3" r="5.98" fill="rgb(94,94,94)"/>
<circle cx="127.6" cy="158.0" r="6.17" fill="rgb(89,89,89)"/>
<circle cx="127.8" cy="155.6" r="6.28" fill="rgb(84,84,84)"/>
<circle cx="127.7" cy="153.2" r="6.36" fill="rgb(79,79,79)"/>
<circle cx="127.4" cy="150.8" r="6.40" fill="rgb(74,74,74)"/>
<circle cx="126.9" cy="148.4" r="6.37" fill="rgb(70,70,70)"/>
<circle cx="126.2" cy="146.1" r="6.29" fill="rgb(67,67,67)"/>
<circle cx="125.2" cy="143.9" r="6.19" fill="rgb(63,63,63)"/>
<circle cx="124.0" cy="141.9" r="6.06" fill="rgb(61,61,61)"/>
<circle cx="122.5" cy="140.0" r="5.90" fill="rgb(58,58,58)"/>
<circle cx="120.8" cy="138.2" r="5.74" fill="rgb(56,56,56)"/>
<circle cx="119.0" cy="136.6" r="5.57" fill="rgb(54,54,54)"/>
<circle cx="117.1" cy="135.1" r="5.42" fill="rgb(52,52,52)"/>
<circle cx="115.2" cy="133.8" r="5.29" fill="rgb(51,51,51)"/>
<circle cx="113.1" cy="132.6" r="5.18" fill="rgb(49,49,49)"/>
<circle cx="111.0" cy="131.5" r="5.12" fill="rgb(48,48,48)"/>
<circle cx="108.8" cy="130.5" r="5.12" fill="rgb(48,48,48)"/>
<circle cx="106.5" cy="129.7" r="5.12" fill="rgb(48,48,48)"/>
<circle cx="104.2" cy="129.1" r="5.12" fill="rgb(49,49,49)"/>
<circle cx="101.8" cy="128.7" r="5.12" fill="rgb(54,54,54)"/>
<circle cx="99.4" cy="128.5" r="5.12" fill="rgb(60,60,60)"/>
<circle cx="97.0" cy="128.4" r="5.12" fill="rgb(69,69,69)"/>
<circle cx="94.6" cy="128.6" r="5.12" fill="rgb(79,79,79)"/>
<circle cx="92.3" cy="129.0" r="5.07" fill="rgb(92,92,92)"/>
<circle cx="89.9" cy="129.6" r="4.98" fill="rgb(107,107,107)"/>
<circle cx="87.6" cy="130.3" r="4.91" fill="rgb(118,118,118)"/>
<circle cx="85.4" cy="131.2" r="4.91" fill="rgb(124,124,124)"/>
<circle cx="83.2" cy="132.1" r="4.91" fill="rgb(129,129,129)"/>
<circle cx="81.0" cy="133.1" r="4.91" fill="rgb(132,132,132)"/>
<circle cx="78.9" cy="134.2" r="4.91" fill="rgb(133,133,133)"/>
<circle cx="76.8" cy="135.4" r="4.93" fill="rgb(131,131,131)"/>
<circle cx="74.7" cy="136.7" r="4.99" fill="rgb(126,126,126)"/>
<circle cx="72.8" cy="138.0" r="5.06" fill="rgb(120,120,120)"/>
<circle cx="70.8" cy="139.5" r="5.13" fill="rgb(113,113,113)"/>
<circle cx="69.0" cy="141.0" r="5.19" fill="rgb(104,104,104)"/>
<circle cx="67.2" cy="142.6" r="5.25" fill="rgb(93,93,93)"/>
<circle cx="65.5" cy="144.3" r="5.32" fill="rgb(82,82,82)"/>
<circle cx="64.0" cy="146.1" r="5.41" fill="rgb(74,74,74)"/>
<circle cx="62.5" cy="148.0" r="5.51" fill="rgb(66,66,66)"/>
<circle cx="61.1" cy="150.0" r="5.55" fill="rgb(59,59,59)"/>
<circle cx="59.8" cy="152.0" r="5.55" fill="rgb(53,53,53)"/>
<circle cx="58.6" cy="154.1" r="5.55" fill="rgb(48,48,48)"/>
<circle cx="57.5" cy="156.2" r="5.55" fill="rgb(44,44,44)"/>
<circle cx="56.5" cy="158.4" r="5.52" fill="rgb(39,39,39)"/>
<circle cx="55.5" cy="160.6" r="5.44" fill="rgb(34,34,34)"/>
<circle cx="54.7" cy="162.8" r="5.34" fill="rgb(30,30,30)"/>
<circle cx="53.9" cy="165.1" r="5.27" fill="rgb(25,25,25)"/>
<circle cx="53.1" cy="167.4" r="5.18" fill="rgb(20,20,20)"/>
<circle cx="52.5" cy="169.7" r="5.07" fill="rgb(15,15,15)"/>
<circle cx="52.1" cy="172.0" r="4.90" fill="rgb(11,11,11)"/>
<circle cx="51.9" cy="174.4" r="4.69" fill="rgb(7,7,7)"/>
<circle cx="93.4" cy="174.2" r="0.62" fill="rgb(158,158,158)"/>
<circle cx="94.3" cy="176.5" r="0.75" fill="rgb(141,141,141)"/>
<circle cx="95.9" cy="178.3" r="0.89" fill="rgb(128,128,128)"/>
<circle cx="98.0" cy="179.5" r="1.01" fill="rgb(119,119,119)"/>
<circle cx="100.3" cy="180.3" r="1.13" fill="rgb(111,111,111)"/>
<circle cx="102.7" cy="180.6" r="1.26" fill="rgb(106,106,106)"/>
<circle cx="105.1" cy="180.6" r="1.39" fill="rgb(102,102,102)"/>
<circle cx="107.5" cy="180.2" r="1.55" fill="rgb(101,101,101)"/>
<circle cx="109.8" cy="179.5" r="1.76" fill="rgb(101,101,101)"/>
<circle cx="112.0" cy="178.5" r="2.00" fill="rgb(101,101,101)"/>
<circle cx="114.0" cy="177.2" r="2.25" fill="rgb(102,102,102)"/>
<circle cx="115.9" cy="175.7" r="2.52" fill="rgb(106,106,106)"/>
<circle cx="117.6" cy="174.1" r="2.79" fill="rgb(110,110,110)"/>
<circle cx="119.3" cy="172.3" r="3.07" fill="rgb(115,115,115)"/>
<circle cx="120.8" cy="170.5" r="3.34" fill="rgb(120,120,120)"/>
<circle cx="122.3" cy="168.6" r="3.58" fill="rgb(122,122,122)"/>
<circle cx="123.8" cy="166.7" r="3.77" fill="rgb(122,122,122)"/>
<circle cx="125.1" cy="164.7" r="3.94" fill="rgb(122,122,122)"/>
<circle cx="126.2" cy="162.6" r="4.12" fill="rgb(121,121,121)"/>
<circle cx="127.0" cy="160.3" r="4.32" fill="rgb(116,116,116)"/>
<circle cx="127.6" cy="158.0" r="4.46" fill="rgb(110,110,110)"/>
<circle cx="127.8" cy="155.6" r="4.53" fill="rgb(104,104,104)"/>
<circle cx="127.7" cy="153.2" r="4.59" fill="rgb(98,98,98)"/>
<circle cx="127.4" cy="150.8" r="4.62" fill="rgb(92,92,92)"/>
<circle cx="126.9" cy="148.4" r="4.60" fill="rgb(86,86,86)"/>
<circle cx="126.2" cy="146.1" r="4.54" fill="rgb(82,82,82)"/>
<circle cx="125.2" cy="143.9" r="4.47" fill="rgb(78,78,78)"/>
<circle cx="124.0" cy="141.9" r="4.37" fill="rgb(75,75,75)"/>
<circle cx="122.5" cy="140.0" r="4.26" fill="rgb(72,72,72)"/>
<circle cx="120.8" cy="138.2" r="4.14" fill="rgb(69,69,69)"/>
<circle cx="119.0" cy="136.6" r="4.02" fill="rgb(67,67,67)"/>
<circle cx="117.1" cy="135.1" r="3.91" fill="rgb(64,64,64)"/>
<circle cx="115.2" cy="133.8" r="3.82" fill="rgb(62,62,62)"/>
<circle cx="113.1" cy="132.6" r="3.74" fill="rgb(60,60,60)"/>
<circle cx="111.0" cy="131.5" r="3.69" fill="rgb(59,59,59)"/>
<circle cx="108.8" cy="130.5" r="3.69" fill="rgb(59,59,59)"/>
<circle cx="106.5" cy="129.7" r="3.69" fill="rgb(59,59,59)"/>
<circle cx="104.2" cy="129.1" r="3.69" fill="rgb(60,60,60)"/>
<circle cx="101.8" cy="128.7" r="3.69" fill="rgb(66,66,66)"/>
<circle cx="99.4" cy="128.5" r="3.69" fill="rgb(74,74,74)"/>
<circle cx="97.0" cy="128.4" r="3.69" fill="rgb(85,85,85)"/>
<circle cx="94.6" cy="128.6" r="3.69" fill="rgb(98,98,98)"/>
<circle cx="92.3" cy="129.0" r="3.66" fill="rgb(113,113,113)"/>
<circle cx="89.9" cy="129.6" r="3.59" fill="rgb(132,132,132)"/>
<circle cx="87.6" cy="130.3" r="3.54" fill="rgb(146,146,146)"/>
<circle cx="85.4" cy="131.2" r="3.54" fill="rgb(153,153,153)"/>
<circle cx="83.2" cy="132.1" r="3.54" fill="rgb(158,158,158)"/>
<circle cx="81.0" cy="133.1" r="3.54" fill="rgb(162,162,162)"/>
<circle cx="78.9" cy="134.2" r="3.54" fill="rgb(164,164,164)"/>
<circle cx="76.8" cy="135.4" r="3.56" fill="rgb(162,162,162)"/>
<circle cx="74.7" cy="136.7" r="3.60" fill="rgb(156,156,156)"/>
<circle cx="72.8" cy="138.0" r="3.65" fill="rgb(148,148,148)"/>
<circle cx="70.8" cy="139.5" r="3.70" fill="rgb(139,139,139)"/>
<circle cx="69.0" cy="141.0" r="3.74" fill="rgb(128,128,128)"/>
<circle cx="67.2" cy="142.6" r="3.79" fill="rgb(114,114,114)"/>
<circle cx="65.5" cy="144.3" r="3.84" fill="rgb(101,101,101)"/>
<circle cx="64.0" cy="146.1" r="3.90" fill="rgb(91,91,91)"/>
<circle cx="62.5" cy="148.0" r="3.97" fill="rgb(81,81,81)"/>
<circle cx="61.1" cy="150.0" r="4.00" fill="rgb(73,73,73)"/>
<circle cx="59.8" cy="152.0" r="4.00" fill="rgb(66,66,66)"/>
<circle cx="58.6" cy="154.1" r="4.00" fill="rgb(59,59,59)"/>
<circle cx="57.5" cy="156.2" r="4.00" fill="rgb(54,54,54)"/>
<circle cx="56.5" cy="158.4" r="3.98" fill="rgb(48,48,48)"/>
<circle cx="55.5" cy="160.6" r="3.92" fill="rgb(42,42,42)"/>
<circle cx="54.7" cy="162.8" r="3.85" fill="rgb(36,36,36)"/>
<circle cx="53.9" cy="165.1" r="3.80" fill="rgb(30,30,30)"/>
<circle cx="53.1" cy="167.4" r="3.74" fill="rgb(25,25,25)"/>
<circle cx="52.5" cy="169.7" r="3.66" fill="rgb(19,19,19)"/>
<circle cx="52.1" cy="172.0" r="3.54" fill="rgb(14,14,14)"/>
<circle cx="51.9" cy="174.4" r="3.39" fill="rgb(8,8,8)"/>
<circle cx="93.4" cy="174.2" r="0.35" fill="rgb(183,183,183)"/>
<circle cx="94.3" cy="176.5" r="0.42" fill="rgb(164,164,164)"/>
<circle cx="95.9" cy="178.3" r="0.50" fill="rgb(149,149,149)"/>
<circle cx="98.0" cy="179.5" r="0.57" fill="rgb(138,138,138)"/>
<circle cx="100.3" cy="180.3" r="0.63" fill="rgb(129,129,129)"/>
<circle cx="102.7" cy="180.6" r="0.70" fill="rgb(123,123,123)"/>
<circle cx="105.1" cy="180.6" r="0.78" fill="rgb(118,118,118)"/>
<circle cx="107.5" cy="180.2" r="0.87" fill="rgb(117,117,117)"/>
<circle cx="109.8" cy="179.5" r="0.99" fill="rgb(117,117,117)"/>
<circle cx="112.0" cy="178.5" r="1.12" fill="rgb(117,117,117)"/>
<circle cx="114.0" cy="177.2" r="1.26" fill="rgb(119,119,119)"/>
<circle cx="115.9" cy="175.7" r="1.41" fill="rgb(123,123,123)"/>
<circle cx="117.6" cy="174.1" r="1.57" fill="rgb(127,127,127)"/>
<circle cx="119.3" cy="172.3" r="1.72" fill="rgb(133,133,133)"/>
<circle cx="120.8" cy="170.5" r="1.88" fill="rgb(139,139,139)"/>
<circle cx="122.3" cy="168.6" r="2.01" fill="rgb(142,142,142)"/>
<circle cx="123.8" cy="166.7" r="2.11" fill="rgb(142,142,142)"/>
<circle cx="125.1" cy="164.7" r="2.21" fill="rgb(142,142,142)"/>
<circle cx="126.2" cy="162.6" r="2.31" fill="rgb(140,140,140)"/>
<circle cx="127.0" cy="160.3" r="2.42" fill="rgb(135,135,135)"/>
<circle cx="127.6" cy="158.0" r="2.50" fill="rgb(128,128,128)"/>
<circle cx="127.8" cy="155.6" r="2.54" fill="rgb(121,121,121)"/>
<circle cx="127.7" cy="153.2" r="2.58" fill="rgb(113,113,113)"/>
<circle cx="127.4" cy="150.8" r="2.59" fill="rgb(106,106,106)"/>
<circle cx="126.9" cy="148.4" r="2.58" fill="rgb(100,100,100)"/>
<circle cx="126.2" cy="146.1" r="2.55" fill="rgb(95,95,95)"/>
<circle cx="125.2" cy="143.9" r="2.51" fill="rgb(91,91,91)"/>
<circle cx="124.0" cy="141.9" r="2.46" fill="rgb(87,87,87)"/>
<circle cx="122.5" cy="140.0" r="2.39" fill="rgb(83,83,83)"/>
<circle cx="120.8" cy="138.2" r="2.32" fill="rgb(80,80,80)"/>
<circle cx="119.0" cy="136.6" r="2.26" fill="rgb(77,77,77)"/>
<circle cx="117.1" cy="135.1" r="2.19" fill="rgb(75,75,75)"/>
<circle cx="115.2" cy="133.8" r="2.14" fill="rgb(72,72,72)"/>
<circle cx="113.1" cy="132.6" r="2.10" fill="rgb(70,70,70)"/>
<circle cx="111.0" cy="131.5" r="2.07" fill="rgb(68,68,68)"/>
<circle cx="108.8" cy="130.5" r="2.07" fill="rgb(68,68,68)"/>
<circle cx="106.5" cy="129.7" r="2.07" fill="rgb(68,68,68)"/>
<circle cx="104.2" cy="129.1" r="2.07" fill="rgb(70,70,70)"/>
<circle cx="101.8" cy="128.7" r="2.07" fill="rgb(77,77,77)"/>
<circle cx="99.4" cy="128.5" r="2.07" fill="rgb(86,86,86)"/>
<circle cx="97.0" cy="128.4" r="2.07" fill="rgb(99,99,99)"/>
<circle cx="94.6" cy="128.6" r="2.07" fill="rgb(113,113,113)"/>
<circle cx="92.3" cy="129.0" r="2.06" fill="rgb(132,132,132)"/>
<circle cx="89.9" cy="129.6" r="2.02" fill="rgb(153,153,153)"/>
<circle cx="87.6" cy="130.3" r="1.99" fill="rgb(169,169,169)"/>
<circle cx="85.4" cy="131.2" r="1.99" fill="rgb(177,177,177)"/>
<circle cx="83.2" cy="132.1" r="1.99" fill="rgb(184,184,184)"/>
<circle cx="81.0" cy="133.1" r="1.99" fill="rgb(189,189,189)"/>
<circle cx="78.9" cy="134.2" r="1.99" fill="rgb(191,191,191)"/>
<circle cx="76.8" cy="135.4" r="2.00" fill="rgb(188,188,188)"/>
<circle cx="74.7" cy="136.7" r="2.02" fill="rgb(181,181,181)"/>
<circle cx="72.8" cy="138.0" r="2.05" fill="rgb(172,172,172)"/>
<circle cx="70.8" cy="139.5" r="2.08" fill="rgb(162,162,162)"/>
<circle cx="69.0" cy="141.0" r="2.10" fill="rgb(149,149,149)"/>
<circle cx="67.2" cy="142.6" r="2.13" fill="rgb(133,133,133)"/>
<circle cx="65.5" cy="144.3" r="2.15" fill="rgb(118,118,118)"/>
<circle cx="64.0" cy="146.1" r="2.19" fill="rgb(105,105,105)"/>
<circle cx="62.5" cy="148.0" r="2.23" fill="rgb(94,94,94)"/>
<circle cx="61.1" cy="150.0" r="2.25" fill="rgb(84,84,84)"/>
<circle cx="59.8" cy="152.0" r="2.25" fill="rgb(76,76,76)"/>
<circle cx="58.6" cy="154.1" r="2.25" fill="rgb(69,69,69)"/>
<circle cx="57.5" cy="156.2" r="2.25" fill="rgb(62,62,62)"/>
<circle cx="56.5" cy="158.4" r="2.24" fill="rgb(55,55,55)"/>
<circle cx="55.5" cy="160.6" r="2.20" fill="rgb(49,49,49)"/>
<circle cx="54.7" cy="162.8" r="2.16" fill="rgb(42,42,42)"/>
<circle cx="53.9" cy="165.1" r="2.13" fill="rgb(35,35,35)"/>
<circle cx="53.1" cy="167.4" r="2.10" fill="rgb(28,28,28)"/>
<circle cx="52.5" cy="169.7" r="2.05" fill="rgb(22,22,22)"/>
<circle cx="52.1" cy="172.0" r="1.99" fill="rgb(16,16,16)"/>
<circle cx="51.9" cy="174.4" r="1.90" fill="rgb(10,10,10)"/>
</g></g>
<rect x="315.4" y="5" width="9.6" height="95.3" fill="url(#cb)"/>
<text x="38.5" y="115" font-size="10" text-anchor="middle" font-family='"Liberation Serif", serif' font-weight="normal" >-1</text>
<text x="38.5" y="235.2" font-size="10" text-anchor="middle" font-family='"Liberation Serif", serif' font-weight="normal" >-1</text>
<text x="66.6" y="115" font-size="10" text-anchor="middle" font-family='"Liberation Serif", serif' font-weight="normal" >-0.5</text>
<text x="66.6" y="235.2" font-size="10" text-anchor="middle" font-family='"Liberation Serif", serif' font-weight="normal" >-0.5</text>
<text x="94.3" y="115" font-size="10" text-anchor="middle" font-family='"Liberation Serif", serif' font-weight="normal" >0</text>
<text x="94.3" y="235.2" font-size="10" text-anchor="middle" font-family='"Liberation Serif", serif' font-weight="normal" >0</text>
<text x="121.5" y="115" font-size="10" text-anchor="middle" font-family='"Liberation Serif", serif' font-weight="normal" >0.5</text>
<text x="121.5" y="235.2" font-size="10" text-anchor="middle" font-family='"Liberation Serif", serif' font-weight="normal" >0.5</text>
<text x="148.5" y="115" font-size="10" text-anchor="middle" font-family='"Liberation Serif", serif' font-weight="normal" >1</text>
<text x="148.5" y="235.2" font-size="10" text-anchor="middle" font-family='"Liberation Serif", serif' font-weight="normal" >1</text>
<text x="30" y="15.0" font-size="10" text-anchor="end" font-family='"Liberation Serif", serif' font-weight="normal" >1</text>
<text x="30" y="57.699999999999996" font-size="10" text-anchor="end" font-family='"Liberation Serif", serif' font-weight="normal" >0</text>
<text x="30" y="101.10000000000001" font-size="10" text-anchor="end" font-family='"Liberation Serif", serif' font-weight="normal" >-1</text>
<text x="30" y="129.2" font-size="10" text-anchor="end" font-family='"Liberation Serif", serif' font-weight="normal" >1</text>
<text x="30" y="173.9" font-size="10" text-anchor="end" font-family='"Liberation Serif", serif' font-weight="normal" >0</text>
<text x="30" y="221.6" font-size="10" text-anchor="end" font-family='"Liberation Serif", serif' font-weight="normal" >-1</text>
<text x="191.5" y="115" font-size="10" text-anchor="middle" font-family='"Liberation Serif", serif' font-weight="normal" >-1</text>
<text x="219.5" y="115" font-size="10" text-anchor="middle" font-family='"Liberation Serif", serif' font-weight="normal" >-0.5</text>
<text x="247" y="115" font-size="10" text-anchor="middle" font-family='"Liberation Serif", serif' font-weight="normal" >0</text>
<text x="273.5" y="115" font-size="10" text-anchor="middle" font-family='"Liberation Serif", serif' font-weight="normal" >0.5</text>
<text x="300.5" y="115" font-size="10" text-anchor="middle" font-family='"Liberation Serif", serif' font-weight="normal" >1</text>
<text x="183" y="13.700000000000001" font-size="10" text-anchor="end" font-family='"Liberation Serif", serif' font-weight="normal" >1</text>
<text x="183" y="36.699999999999996" font-size="10" text-anchor="end" font-family='"Liberation Serif", serif' font-weight="normal" >0.5</text>
<text x="183" y="57.699999999999996" font-size="10" text-anchor="end" font-family='"Liberation Serif", serif' font-weight="normal" >0</text>
<text x="183" y="79.4" font-size="10" text-anchor="end" font-family='"Liberation Serif", serif' font-weight="normal" >-0.5</text>
<text x="183" y="100.7" font-size="10" text-anchor="end" font-family='"Liberation Serif", serif' font-weight="normal" >-1</text>
<text x="328" y="9.5" font-size="10" text-anchor="start" font-family='"Liberation Serif", serif' font-weight="normal" >1</text>
<text x="328" y="57" font-size="10" text-anchor="start" font-family='"Liberation Serif", serif' font-weight="normal" >0.5</text>
<text x="328" y="103.7" font-size="10" text-anchor="start" font-family='"Liberation Serif", serif' font-weight="normal" >0</text>
<text x="5" y="17.5" font-size="10.8" text-anchor="start" font-family='"Liberation Sans", sans-serif' font-weight="normal" stroke="#111" stroke-width="0.25">(a)</text>
<text x="163.3" y="17.7" font-size="10.5" text-anchor="start" font-family='"Liberation Sans", sans-serif' font-weight="bold" >(b)</text>
<text x="5.5" y="133.5" font-size="10.5" text-anchor="start" font-family='"Liberation Sans", sans-serif' font-weight="bold" >(c)</text>
<text x="164.2" y="131.5" font-size="10.5" text-anchor="start" font-family='"Liberation Sans", sans-serif' font-weight="bold" >(d)</text>
<text transform="translate(13.3,53.4) rotate(-90)" font-size="11.5" text-anchor="middle" font-family='"Liberation Serif", serif'><tspan font-weight="bold">p</tspan><tspan font-weight="bold" font-size="10" dy="4.4">z</tspan><tspan dy="-4.4"> (a.u.)</tspan></text>
<text transform="translate(13.3,171.2) rotate(-90)" font-size="11.5" text-anchor="middle" font-family='"Liberation Serif", serif'><tspan font-weight="bold">p</tspan><tspan font-weight="bold" font-size="10" dy="4.4">z</tspan><tspan dy="-4.4"> (a.u.)</tspan></text>
<text y="247" font-size="11.5" font-family='"Liberation Serif", serif'><tspan x="75" font-weight="bold">p</tspan><tspan x="80.2" font-weight="bold" font-size="10" dy="5.3">x</tspan><tspan x="89.6" dy="-5.3">(a.u.)</tspan></text>
<rect x="185.4" y="120.2" width="120.79999999999998" height="100.60000000000001" fill="#fff" stroke="#8c8c8c" stroke-width="0.8"/>
<path d="M240.3,220.8 v-1.5 M240.3,120.2 v1.5" stroke="#8c8c8c" stroke-width="0.7"/>
<path d="M295.0,220.8 v-1.5 M295.0,120.2 v1.5" stroke="#8c8c8c" stroke-width="0.7"/>
<path d="M306.2,170.5 h-1.5 M185.4,170.5 h1.5" stroke="#8c8c8c" stroke-width="0.7"/>
<path d="M185.6,220.8 L186.1,220.2 L186.5,219.1 L187.0,217.9 L187.5,216.2 L187.9,213.9 L188.4,211.5 L188.9,209.2 L189.3,206.9 L189.8,204.4 L190.2,202.0 L190.7,199.6 L191.2,197.3 L191.6,195.0 L192.1,192.7 L192.6,190.5 L193.0,188.2 L193.5,185.8 L194.0,183.5 L194.4,181.1 L194.9,178.7 L195.4,176.5 L195.8,174.3 L196.3,172.2 L196.8,170.1 L197.2,168.1 L197.7,166.2 L198.1,164.3 L198.6,162.4 L199.1,160.6 L199.5,158.8 L200.0,157.1 L200.5,155.4 L200.9,153.8 L201.4,152.3 L201.9,150.8 L202.3,149.3 L202.8,147.8 L203.3,146.4 L203.7,145.0 L204.2,143.7 L204.6,142.4 L205.1,141.1 L205.6,139.9 L206.0,138.7 L206.5,137.5 L207.0,136.3 L207.4,135.2 L207.9,134.1 L208.4,133.0 L208.8,132.0 L209.3,131.1 L209.8,130.2 L210.2,129.3 L210.7,128.4 L211.2,127.6 L211.6,126.8 L212.1,126.0 L212.5,125.3 L213.0,124.6 L213.5,124.0 L213.9,123.4 L214.4,122.9 L214.9,122.5 L215.3,122.0 L215.8,121.6 L216.3,121.3 L216.7,121.0 L217.2,120.8 L217.7,120.6 L218.1,120.4 L218.6,120.3 L219.1,120.2 L219.5,120.2 L220.0,120.3 L220.4,120.5 L220.9,120.7 L221.4,120.9 L221.8,121.1 L222.3,121.4 L222.8,121.7 L223.2,122.2 L223.7,122.7 L224.2,123.2 L224.6,124.0 L225.1,124.9 L225.6,126.1 L226.0,127.4 L226.5,128.7 L227.0,130.0 L227.4,131.2 L227.9,132.5 L228.3,133.8 L228.8,135.2 L229.3,136.6 L229.7,137.9 L230.2,139.3 L230.7,140.6 L231.1,141.9 L231.6,143.1 L232.1,144.4 L232.5,145.6 L233.0,146.8 L233.5,148.1 L233.9,149.4 L234.4,150.7 L234.9,152.2 L235.3,153.7 L235.8,155.3 L236.2,156.9 L236.7,158.6 L237.2,160.2 L237.6,161.9 L238.1,163.4 L238.6,165.0 L239.0,166.5 L239.5,168.0 L240.0,169.5 L240.4,170.9 L240.9,172.3 L241.4,173.7 L241.8,175.0 L242.3,176.3 L242.7,177.7 L243.2,179.0 L243.7,180.3 L244.1,181.6 L244.6,182.8 L245.1,184.1 L245.5,185.3 L246.0,186.4 L246.5,187.6 L246.9,188.7 L247.4,189.8 L247.9,190.9 L248.3,192.0 L248.8,193.0 L249.3,194.1 L249.7,195.1 L250.2,196.1 L250.6,197.0 L251.1,198.0 L251.6,198.9 L252.0,199.7 L252.5,200.6 L253.0,201.4 L253.4,202.3 L253.9,203.1 L254.4,203.9 L254.8,204.6 L255.3,205.4 L255.8,206.1 L256.2,206.8 L256.7,207.5 L257.2,208.1 L257.6,208.7 L258.1,209.3 L258.5,209.8 L259.0,210.3 L259.5,210.9 L259.9,211.4 L260.4,211.8 L260.9,212.3 L261.3,212.7 L261.8,213.2 L262.3,213.6 L262.7,214.0 L263.2,214.4 L263.7,214.7 L264.1,215.1 L264.6,215.4 L265.1,215.8 L265.5,216.1 L266.0,216.4 L266.4,216.7 L266.9,217.0 L267.4,217.3 L267.8,217.6 L268.3,217.8 L268.8,218.0 L269.2,218.2 L269.7,218.4 L270.2,218.6 L270.6,218.7 L271.1,218.9 L271.6,219.1 L272.0,219.2 L272.5,219.3 L273.0,219.4 L273.4,219.6 L273.9,219.7 L274.3,219.8 L274.8,219.9 L275.3,220.0 L275.7,220.0 L276.2,220.1 L276.7,220.2 L277.1,220.3 L277.6,220.3 L278.1,220.4 L278.5,220.5 L279.0,220.5 L279.5,220.6 L279.9,220.6 L280.4,220.7 L280.8,220.7 L281.3,220.7 L281.8,220.7 L282.2,220.7 L282.7,220.7 L283.2,220.7 L283.6,220.7 L284.1,220.7 L284.6,220.7 L285.0,220.7 L285.5,220.7 L286.0,220.7 L286.4,220.7 L286.9,220.7 L287.4,220.7 L287.8,220.7 L288.3,220.8 L288.7,220.8 L289.2,220.8 L289.7,220.8 L290.1,220.8 L290.6,220.8 L291.1,220.8 L291.5,220.8 L292.0,220.8 L292.5,220.8 L292.9,220.8 L293.4,220.8 L293.9,220.8 L294.3,220.8 L294.8,220.8 L295.3,220.8 L295.7,220.8 L296.2,220.8 L296.6,220.8 L297.1,220.8 L297.6,220.8 L298.0,220.8 L298.5,220.8 L299.0,220.8 L299.4,220.8 L299.9,220.8 L300.4,220.8 L300.8,220.8 L301.3,220.8 L301.8,220.8 L302.2,220.8 L302.7,220.8 L303.2,220.8 L303.6,220.8 L304.1,220.8 L304.5,220.8 L305.0,220.8 L305.5,220.8 L305.9,220.8" fill="none" stroke="#e0182d" stroke-width="1.35" stroke-linejoin="round"/>
<path d="M185.6,194.6 L186.1,194.0 L186.5,193.4 L187.0,192.7 L187.5,191.9 L187.9,191.1 L188.4,190.2 L188.9,189.3 L189.3,188.3 L189.8,187.2 L190.2,186.1 L190.7,184.9 L191.2,183.7 L191.6,182.5 L192.1,181.4 L192.6,180.2 L193.0,178.9 L193.5,177.7 L194.0,176.4 L194.4,175.1 L194.9,173.7 L195.4,172.3 L195.8,170.9 L196.3,169.4 L196.8,168.0 L197.2,166.6 L197.7,165.2 L198.1,163.8 L198.6,162.5 L199.1,161.1 L199.5,159.7 L200.0,158.3 L200.5,157.0 L200.9,155.6 L201.4,154.2 L201.9,152.8 L202.3,151.4 L202.8,150.1 L203.3,148.9 L203.7,147.6 L204.2,146.4 L204.6,145.2 L205.1,144.0 L205.6,142.9 L206.0,141.8 L206.5,140.8 L207.0,139.8 L207.4,138.8 L207.9,137.8 L208.4,136.9 L208.8,136.0 L209.3,135.2 L209.8,134.3 L210.2,133.5 L210.7,132.7 L211.2,131.9 L211.6,131.1 L212.1,130.4 L212.5,129.7 L213.0,129.0 L213.5,128.3 L213.9,127.7 L214.4,127.1 L214.9,126.5 L215.3,125.9 L215.8,125.3 L216.3,124.8 L216.7,124.3 L217.2,123.8 L217.7,123.4 L218.1,123.0 L218.6,122.6 L219.1,122.1 L219.5,121.7 L220.0,121.4 L220.4,121.2 L220.9,121.2 L221.4,121.3 L221.8,121.4 L222.3,121.5 L222.8,121.7 L223.2,121.9 L223.7,122.2 L224.2,122.6 L224.6,123.0 L225.1,123.5 L225.6,124.2 L226.0,125.0 L226.5,126.0 L227.0,126.9 L227.4,128.0 L227.9,129.3 L228.3,130.5 L228.8,131.9 L229.3,133.2 L229.7,134.5 L230.2,135.8 L230.7,137.2 L231.1,138.5 L231.6,139.9 L232.1,141.3 L232.5,142.6 L233.0,143.9 L233.5,145.1 L233.9,146.3 L234.4,147.4 L234.9,148.6 L235.3,149.9 L235.8,151.3 L236.2,153.2 L236.7,155.3 L237.2,157.5 L237.6,159.8 L238.1,161.9 L238.6,163.9 L239.0,165.8 L239.5,167.7 L240.0,169.5 L240.4,171.3 L240.9,173.1 L241.4,174.9 L241.8,176.7 L242.3,178.5 L242.7,180.3 L243.2,182.1 L243.7,183.9 L244.1,185.5 L244.6,187.1 L245.1,188.5 L245.5,189.7 L246.0,191.0 L246.5,192.1 L246.9,193.2 L247.4,194.3 L247.9,195.5 L248.3,196.5 L248.8,197.6 L249.3,198.6 L249.7,199.7 L250.2,200.6 L250.6,201.6 L251.1,202.5 L251.6,203.5 L252.0,204.5 L252.5,205.4 L253.0,206.3 L253.4,207.3 L253.9,208.2 L254.4,209.0 L254.8,209.8 L255.3,210.6 L255.8,211.3 L256.2,212.0 L256.7,212.6 L257.2,213.1 L257.6,213.6 L258.1,214.2 L258.5,214.6 L259.0,215.1 L259.5,215.6 L259.9,216.0 L260.4,216.4 L260.9,216.8 L261.3,217.1 L261.8,217.4 L262.3,217.7 L262.7,217.9 L263.2,218.2 L263.7,218.4 L264.1,218.6 L264.6,218.8 L265.1,219.0 L265.5,219.1 L266.0,219.3 L266.4,219.5 L266.9,219.6 L267.4,219.7 L267.8,219.8 L268.3,219.9 L268.8,220.0 L269.2,220.1 L269.7,220.2 L270.2,220.3 L270.6,220.4 L271.1,220.5 L271.6,220.6 L272.0,220.6 L272.5,220.7 L273.0,220.7 L273.4,220.7 L273.9,220.7 L274.3,220.7 L274.8,220.7 L275.3,220.7 L275.7,220.7 L276.2,220.7 L276.7,220.7 L277.1,220.7 L277.6,220.7 L278.1,220.7 L278.5,220.7 L279.0,220.7 L279.5,220.7 L279.9,220.7 L280.4,220.7 L280.8,220.7 L281.3,220.8 L281.8,220.8 L282.2,220.8 L282.7,220.8 L283.2,220.8 L283.6,220.8 L284.1,220.8 L284.6,220.8 L285.0,220.8 L285.5,220.8 L286.0,220.8 L286.4,220.8 L286.9,220.8 L287.4,220.8 L287.8,220.8 L288.3,220.8 L288.7,220.8 L289.2,220.8 L289.7,220.8 L290.1,220.8 L290.6,220.8 L291.1,220.8 L291.5,220.8 L292.0,220.8 L292.5,220.8 L292.9,220.8 L293.4,220.8 L293.9,220.8 L294.3,220.8 L294.8,220.8 L295.3,220.8 L295.7,220.8 L296.2,220.8 L296.6,220.8 L297.1,220.8 L297.6,220.8 L298.0,220.8 L298.5,220.8 L299.0,220.8 L299.4,220.8 L299.9,220.8 L300.4,220.8 L300.8,220.8 L301.3,220.8 L301.8,220.8 L302.2,220.8 L302.7,220.8 L303.2,220.8 L303.6,220.8 L304.1,220.8 L304.5,220.8 L305.0,220.8 L305.5,220.8 L305.9,220.8" fill="none" stroke="#2222dd" stroke-width="1.35" stroke-linejoin="round"/>
<path d="M185.6,194.6 L188.4,190.1 L191.9,181.8 L194.8,174.0 L197.1,167.0 L200.6,156.6 L202.3,151.4 L206.7,140.8 L207.8,138.1 L208.9,137.7 L210.2,134.8 L214.0,128.4 L217.7,124.0 L218.9,122.7 L219.8,124.9 L221.6,120.7 L222.6,121.7 L223.5,125.2 L225.0,122.8 L226.6,126.2 L229.9,135.0 L233.0,143.8 L235.7,151.1 L238.2,162.5 L241.4,175.0 L244.8,187.6 L247.5,194.6 L250.7,201.7 L256.6,212.5 L262.6,217.9 L268.5,220.0 L273.1,220.7 L305.9,220.8" fill="none" stroke="#1fe23a" stroke-width="1.35" stroke-linejoin="round"/>
<text x="185.6" y="234.6" font-size="10" text-anchor="middle" font-family='"Liberation Serif", serif' font-weight="normal" >0</text>
<text x="240.3" y="234.6" font-size="10" text-anchor="middle" font-family='"Liberation Serif", serif' font-weight="normal" >0.5</text>
<text x="295.0" y="234.6" font-size="10" text-anchor="middle" font-family='"Liberation Serif", serif' font-weight="normal" >1</text>
<text x="309" y="123.8" font-size="10" text-anchor="start" font-family='"Liberation Serif", serif' font-weight="normal" >1</text>
<text x="309" y="174.1" font-size="10" text-anchor="start" font-family='"Liberation Serif", serif' font-weight="normal" >0.5</text>
<text x="309" y="224.4" font-size="10" text-anchor="start" font-family='"Liberation Serif", serif' font-weight="normal" >0</text>
<text x="246.6" y="248.1" font-size="11.9" text-anchor="middle" font-family='"Liberation Serif", serif' font-weight="normal" >Energy (a.u.)</text>
<text transform="translate(332.9,169.6) rotate(-90)" font-size="12.2" text-anchor="middle" font-family='"Liberation Serif", serif'>Intensity (arb.unit)</text>
<rect x="249.4" y="124.2" width="52.9" height="27.6" fill="#fff" stroke="#555" stroke-width="0.7"/>
<line x1="251" x2="264" y1="129" y2="129" stroke="#e0182d" stroke-width="1.2"/>
<text x="265.3" y="131.6" font-size="7.35" text-anchor="start" font-family='"Liberation Serif", serif' font-weight="normal" stroke="#111" stroke-width="0.2">TDSE</text>
<line x1="251" x2="264" y1="138.8" y2="138.8" stroke="#2222dd" stroke-width="1.2"/>
<text x="265.3" y="141.4" font-size="7.35" text-anchor="start" font-family='"Liberation Serif", serif' font-weight="normal" stroke="#111" stroke-width="0.2">CCSFA</text>
<line x1="251" x2="264" y1="147.8" y2="147.8" stroke="#1fe23a" stroke-width="1.2"/>
<text x="265.3" y="150.4" font-size="7.35" text-anchor="start" font-family='"Liberation Serif", serif' font-weight="normal" stroke="#111" stroke-width="0.2">CCSFA-GA</text>
</svg>
</body></html>
